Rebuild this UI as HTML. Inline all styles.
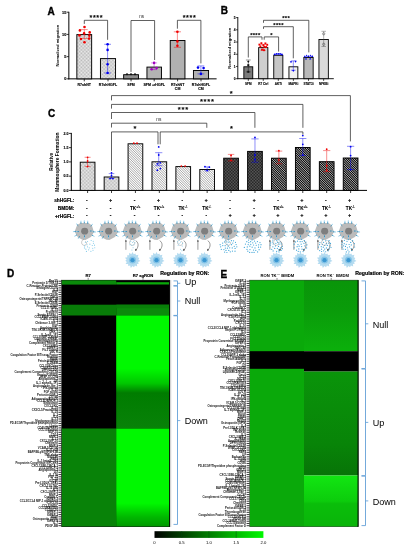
<!DOCTYPE html>
<html lang="en">
<head>
<meta charset="utf-8">
<title>Figure</title>
<style>
html,body{margin:0;padding:0;background:#fff;}
body{width:414px;height:550px;overflow:hidden;font-family:"Liberation Sans",sans-serif;}
svg{display:block;font-family:"Liberation Sans",sans-serif;}
</style>
</head>
<body>
<svg width="414" height="550" viewBox="0 0 414 550">
<defs>
<pattern id="pdot" width="1.4" height="1.4" patternUnits="userSpaceOnUse"><rect width="1.4" height="1.4" fill="#f1f1f1"/><rect x="0" y="0" width="0.7" height="0.7" fill="#b4b4b4"/><rect x="0.7" y="0.7" width="0.7" height="0.7" fill="#b4b4b4"/></pattern>
<pattern id="phatch" width="1.8" height="1.8" patternUnits="userSpaceOnUse" patternTransform="rotate(45)"><rect width="1.8" height="1.8" fill="#fbfbfb"/><rect x="0" y="0" width="1.8" height="0.6" fill="#6e6e6e"/></pattern>
<pattern id="pcheck" width="1.5" height="1.5" patternUnits="userSpaceOnUse"><rect width="1.5" height="1.5" fill="#0c0c0c"/><rect x="0" y="0" width="0.6" height="0.6" fill="#a8a8a8"/><rect x="0.75" y="0.75" width="0.6" height="0.6" fill="#a8a8a8"/></pattern>
<pattern id="pdhatch" width="1.9" height="1.9" patternUnits="userSpaceOnUse" patternTransform="rotate(45)"><rect width="1.9" height="1.9" fill="#050505"/><rect x="0" y="0" width="1.9" height="0.7" fill="#fff"/></pattern>
<linearGradient id="gD1" x1="0" y1="0" x2="0" y2="1">
<stop offset="0" stop-color="#00f800"/><stop offset="0.47" stop-color="#00f800"/><stop offset="0.60" stop-color="#00c800"/><stop offset="0.685" stop-color="#007c00"/><stop offset="1" stop-color="#088208"/>
</linearGradient>
<linearGradient id="gD2" x1="0" y1="0" x2="0" y2="1">
<stop offset="0" stop-color="#00f800"/><stop offset="0.76" stop-color="#00f800"/><stop offset="0.90" stop-color="#00b800"/><stop offset="1" stop-color="#009800"/>
</linearGradient>
<linearGradient id="gE0" x1="0" y1="0" x2="0" y2="1">
<stop offset="0" stop-color="#099509"/><stop offset="0.45" stop-color="#0a9c0a"/><stop offset="1" stop-color="#0bb00b"/>
</linearGradient>
<linearGradient id="gE1" x1="0" y1="0" x2="0" y2="1">
<stop offset="0" stop-color="#0a940a"/><stop offset="0.7" stop-color="#088408"/><stop offset="1" stop-color="#077407"/>
</linearGradient>
<linearGradient id="gE2" x1="0" y1="0" x2="0" y2="1">
<stop offset="0" stop-color="#12e612"/><stop offset="0.5" stop-color="#0ccc0c"/><stop offset="0.55" stop-color="#0abe0a"/><stop offset="1" stop-color="#0ab40a"/>
</linearGradient>
<linearGradient id="gbar" x1="0" y1="0" x2="1" y2="0">
<stop offset="0" stop-color="#000"/><stop offset="1" stop-color="#00f800"/>
</linearGradient>
<g id="cell">
<polygon points="-9.6,0.4 -7.2,-6.4 -3.8,-8.3 3.8,-8.3 7.2,-5.8 9.2,0.8 6.4,5.8 1.0,8.8 -1.8,8.6 -6.4,6.2" fill="#bbbbbb" stroke="#bbbbbb" stroke-width="1.6" stroke-linejoin="round"/>
<circle cx="0.2" cy="0" r="3.75" fill="#7e7e7e"/>
<line x1="-3.80" y1="-8.20" x2="-3.80" y2="-10.00" stroke="#2f8fbe" stroke-width="1.0"/><line x1="-3.80" y1="-10.00" x2="-3.80" y2="-11.50" stroke="#86c9ea" stroke-width="0.9"/><line x1="-0.20" y1="-8.60" x2="-0.20" y2="-10.40" stroke="#2f8fbe" stroke-width="1.0"/><line x1="-0.20" y1="-10.40" x2="-0.20" y2="-11.90" stroke="#86c9ea" stroke-width="0.9"/><line x1="3.40" y1="-8.20" x2="3.40" y2="-10.00" stroke="#2f8fbe" stroke-width="1.0"/><line x1="3.40" y1="-10.00" x2="3.40" y2="-11.50" stroke="#86c9ea" stroke-width="0.9"/><line x1="-6.60" y1="-6.00" x2="-7.86" y2="-7.26" stroke="#2f8fbe" stroke-width="1.0"/><line x1="-7.86" y1="-7.26" x2="-8.91" y2="-8.31" stroke="#86c9ea" stroke-width="0.9"/><line x1="6.60" y1="-5.60" x2="7.86" y2="-6.86" stroke="#2f8fbe" stroke-width="1.0"/><line x1="7.86" y1="-6.86" x2="8.91" y2="-7.91" stroke="#86c9ea" stroke-width="0.9"/><line x1="-9.00" y1="0.20" x2="-10.80" y2="0.38" stroke="#2f8fbe" stroke-width="1.0"/><line x1="-10.80" y1="0.38" x2="-12.30" y2="0.53" stroke="#86c9ea" stroke-width="0.9"/><line x1="9.00" y1="0.60" x2="10.80" y2="0.78" stroke="#2f8fbe" stroke-width="1.0"/><line x1="10.80" y1="0.78" x2="12.30" y2="0.93" stroke="#86c9ea" stroke-width="0.9"/><line x1="-8.00" y1="4.00" x2="-9.53" y2="4.90" stroke="#2f8fbe" stroke-width="1.0"/><line x1="-9.53" y1="4.90" x2="-10.80" y2="5.65" stroke="#86c9ea" stroke-width="0.9"/><line x1="7.80" y1="4.20" x2="9.33" y2="5.10" stroke="#2f8fbe" stroke-width="1.0"/><line x1="9.33" y1="5.10" x2="10.61" y2="5.85" stroke="#86c9ea" stroke-width="0.9"/><line x1="-5.20" y1="5.60" x2="-6.10" y2="7.13" stroke="#2f8fbe" stroke-width="1.0"/><line x1="-6.10" y1="7.13" x2="-6.85" y2="8.40" stroke="#86c9ea" stroke-width="0.9"/><line x1="0.00" y1="4.60" x2="0.00" y2="6.40" stroke="#2f8fbe" stroke-width="1.0"/><line x1="0.00" y1="6.40" x2="0.00" y2="7.90" stroke="#86c9ea" stroke-width="0.9"/><line x1="5.80" y1="-0.20" x2="7.60" y2="-0.20" stroke="#2f8fbe" stroke-width="1.0"/><line x1="7.60" y1="-0.20" x2="9.10" y2="-0.20" stroke="#86c9ea" stroke-width="0.9"/><line x1="-5.80" y1="0.40" x2="-7.60" y2="0.40" stroke="#2f8fbe" stroke-width="1.0"/><line x1="-7.60" y1="0.40" x2="-9.10" y2="0.40" stroke="#86c9ea" stroke-width="0.9"/>
</g>
<g id="mac">
<polygon points="0.00,-8.00 1.23,-5.77 2.93,-6.58 3.47,-4.77 5.95,-5.35 5.11,-2.95 6.85,-2.22 5.87,-0.62 7.96,0.84 5.61,1.82 6.24,3.60 4.38,3.95 4.70,6.47 2.40,5.39 1.50,7.04 0.00,5.90 -1.66,7.83 -2.40,5.39 -4.23,5.82 -4.38,3.95 -6.93,4.00 -5.61,1.82 -7.16,0.75 -5.87,-0.62 -7.61,-2.47 -5.11,-2.95 -5.35,-4.82 -3.47,-4.77 -3.25,-7.31 -1.23,-5.77" fill="#b4dbf0"/>
<circle cx="0" cy="0" r="3.5" fill="#86c4e7"/>
<circle cx="0" cy="0.1" r="2.15" fill="#3a97d1"/>
</g>
</defs>
<rect width="414" height="550" fill="#fff"/>
<text x="47.40" y="14.50" font-size="10" text-anchor="start" font-weight="bold" fill="#000" stroke="#000" stroke-width="0.35">A</text>
<line x1="68.85" y1="11.80" x2="68.85" y2="79.35" stroke="#000" stroke-width="1.0" />
<line x1="68.35" y1="78.85" x2="216.60" y2="78.85" stroke="#000" stroke-width="1.0" />
<line x1="66.65" y1="78.85" x2="68.85" y2="78.85" stroke="#000" stroke-width="0.8" />
<text x="66.25" y="80.15" font-size="3.8" text-anchor="end" font-weight="bold" fill="#000"  stroke="#000" stroke-width="0.133">0</text>
<line x1="66.65" y1="56.63" x2="68.85" y2="56.63" stroke="#000" stroke-width="0.8" />
<text x="66.25" y="57.93" font-size="3.8" text-anchor="end" font-weight="bold" fill="#000"  stroke="#000" stroke-width="0.133">5</text>
<line x1="66.65" y1="34.42" x2="68.85" y2="34.42" stroke="#000" stroke-width="0.8" />
<text x="66.25" y="35.72" font-size="3.8" text-anchor="end" font-weight="bold" fill="#000"  stroke="#000" stroke-width="0.133">10</text>
<line x1="66.65" y1="12.20" x2="68.85" y2="12.20" stroke="#000" stroke-width="0.8" />
<text x="66.25" y="13.50" font-size="3.8" text-anchor="end" font-weight="bold" fill="#000"  stroke="#000" stroke-width="0.133">15</text>
<text transform="translate(59.0,45.6) rotate(-90)" font-size="4.1" font-weight="bold" text-anchor="middle" fill="#000">Normalized migration</text>
<rect x="76.85" y="34.60" width="14.80" height="44.25" fill="url(#pdot)" stroke="#000" stroke-width="0.95" />
<line x1="84.25" y1="78.85" x2="84.25" y2="81.35" stroke="#000" stroke-width="0.75" />
<rect x="100.45" y="58.60" width="15.10" height="20.25" fill="url(#pdot)" stroke="#000" stroke-width="0.95" />
<line x1="108.00" y1="78.85" x2="108.00" y2="81.35" stroke="#000" stroke-width="0.75" />
<rect x="123.65" y="74.70" width="14.80" height="4.15" fill="#8e8e8e" stroke="#000" stroke-width="0.95" />
<line x1="131.05" y1="78.85" x2="131.05" y2="81.35" stroke="#000" stroke-width="0.75" />
<rect x="146.95" y="67.10" width="14.50" height="11.75" fill="#b3b3b3" stroke="#000" stroke-width="0.95" />
<line x1="154.20" y1="78.85" x2="154.20" y2="81.35" stroke="#000" stroke-width="0.75" />
<rect x="170.25" y="40.50" width="14.70" height="38.35" fill="#b1b1b1" stroke="#000" stroke-width="0.95" />
<line x1="177.60" y1="78.85" x2="177.60" y2="81.35" stroke="#000" stroke-width="0.75" />
<rect x="193.45" y="70.50" width="15.10" height="8.35" fill="#b1b1b1" stroke="#000" stroke-width="0.95" />
<line x1="201.00" y1="78.85" x2="201.00" y2="81.35" stroke="#000" stroke-width="0.75" />
<text x="84.25" y="85.90" font-size="3.55" text-anchor="middle" font-weight="bold" fill="#000"  stroke="#000" stroke-width="0.124">R7shNT</text>
<text x="108.00" y="85.90" font-size="3.55" text-anchor="middle" font-weight="bold" fill="#000"  stroke="#000" stroke-width="0.124">R7shHGFL</text>
<text x="131.05" y="85.90" font-size="3.55" text-anchor="middle" font-weight="bold" fill="#000"  stroke="#000" stroke-width="0.124">SFM</text>
<text x="154.20" y="85.90" font-size="3.55" text-anchor="middle" font-weight="bold" fill="#000"  stroke="#000" stroke-width="0.124">SFM +rHGFL</text>
<text x="177.60" y="85.90" font-size="3.55" text-anchor="middle" font-weight="bold" fill="#000"  stroke="#000" stroke-width="0.124">R7shNT</text>
<text x="177.60" y="89.90" font-size="3.55" text-anchor="middle" font-weight="bold" fill="#000"  stroke="#000" stroke-width="0.124">CM</text>
<text x="201.00" y="85.90" font-size="3.55" text-anchor="middle" font-weight="bold" fill="#000"  stroke="#000" stroke-width="0.124">R7shHGFL</text>
<text x="201.00" y="89.90" font-size="3.55" text-anchor="middle" font-weight="bold" fill="#000"  stroke="#000" stroke-width="0.124">CM</text>
<line x1="84.30" y1="29.60" x2="84.30" y2="38.60" stroke="#f00000" stroke-width="0.45" />
<line x1="80.90" y1="29.60" x2="87.70" y2="29.60" stroke="#f00000" stroke-width="0.45" />
<line x1="80.90" y1="38.60" x2="87.70" y2="38.60" stroke="#f00000" stroke-width="0.45" />
<circle cx="79.90" cy="30.40" r="1.3" fill="#f00000" />
<circle cx="84.50" cy="27.00" r="1.3" fill="#f00000" />
<circle cx="89.70" cy="32.40" r="1.3" fill="#f00000" />
<circle cx="79.50" cy="35.40" r="1.3" fill="#f00000" />
<circle cx="84.10" cy="33.40" r="1.3" fill="#f00000" />
<circle cx="89.30" cy="35.60" r="1.3" fill="#f00000" />
<circle cx="80.90" cy="39.00" r="1.3" fill="#f00000" />
<circle cx="84.50" cy="42.20" r="1.3" fill="#f00000" />
<circle cx="89.10" cy="38.60" r="1.3" fill="#f00000" />
<line x1="107.60" y1="44.30" x2="107.60" y2="73.00" stroke="#0000f0" stroke-width="0.45" />
<line x1="104.20" y1="44.30" x2="111.00" y2="44.30" stroke="#0000f0" stroke-width="0.45" />
<line x1="104.20" y1="73.00" x2="111.00" y2="73.00" stroke="#0000f0" stroke-width="0.45" />
<circle cx="107.60" cy="44.30" r="1.3" fill="#0000f0" />
<circle cx="107.60" cy="49.90" r="1.3" fill="#0000f0" />
<circle cx="107.60" cy="64.30" r="1.3" fill="#0000f0" />
<circle cx="107.60" cy="73.00" r="1.3" fill="#0000f0" />
<circle cx="127.00" cy="74.20" r="1.05" fill="#111" />
<circle cx="131.00" cy="74.20" r="1.05" fill="#111" />
<circle cx="135.00" cy="74.20" r="1.05" fill="#111" />
<line x1="154.10" y1="62.90" x2="154.10" y2="69.60" stroke="#a000c0" stroke-width="0.45" />
<line x1="151.10" y1="62.90" x2="157.10" y2="62.90" stroke="#a000c0" stroke-width="0.45" />
<line x1="151.10" y1="69.60" x2="157.10" y2="69.60" stroke="#a000c0" stroke-width="0.45" />
<circle cx="154.10" cy="62.90" r="1.3" fill="#a000c0" />
<circle cx="151.60" cy="69.30" r="1.3" fill="#a000c0" />
<circle cx="156.60" cy="68.10" r="1.3" fill="#a000c0" />
<line x1="177.40" y1="31.80" x2="177.40" y2="47.30" stroke="#f00000" stroke-width="0.45" />
<line x1="173.80" y1="31.80" x2="181.00" y2="31.80" stroke="#f00000" stroke-width="0.45" />
<line x1="173.80" y1="47.30" x2="181.00" y2="47.30" stroke="#f00000" stroke-width="0.45" />
<circle cx="177.40" cy="31.80" r="1.3" fill="#f00000" />
<circle cx="177.40" cy="41.40" r="1.3" fill="#f00000" />
<circle cx="177.40" cy="45.70" r="1.3" fill="#f00000" />
<line x1="200.90" y1="65.90" x2="200.90" y2="73.90" stroke="#0000f0" stroke-width="0.45" />
<line x1="197.50" y1="65.90" x2="204.30" y2="65.90" stroke="#0000f0" stroke-width="0.45" />
<line x1="197.50" y1="73.90" x2="204.30" y2="73.90" stroke="#0000f0" stroke-width="0.45" />
<circle cx="198.00" cy="67.60" r="1.3" fill="#0000f0" />
<circle cx="203.60" cy="68.10" r="1.3" fill="#0000f0" />
<circle cx="200.90" cy="73.90" r="1.3" fill="#0000f0" />
<polyline points="84.30,23.90 84.30,20.30 107.60,20.30 107.60,39.80" fill="none" stroke="#1c1c1c" stroke-width="0.7"/>
<text x="96.30" y="20.16" font-size="7.2" text-anchor="middle" font-weight="bold" fill="#000" letter-spacing="0.6" stroke="#000" stroke-width="0.12">****</text>
<polyline points="131.00,71.90 131.00,20.50 154.60,20.50 154.60,60.00" fill="none" stroke="#1c1c1c" stroke-width="0.7"/>
<text x="141.60" y="18.40" font-size="4.6" text-anchor="middle" font-weight="normal" fill="#2a2a2a" >ns</text>
<polyline points="177.40,28.70 177.40,20.30 200.90,20.30 200.90,63.40" fill="none" stroke="#1c1c1c" stroke-width="0.7"/>
<text x="189.50" y="20.16" font-size="7.2" text-anchor="middle" font-weight="bold" fill="#000" letter-spacing="0.6" stroke="#000" stroke-width="0.12">****</text>
<text x="220.80" y="14.20" font-size="10" text-anchor="start" font-weight="bold" fill="#000" stroke="#000" stroke-width="0.35">B</text>
<line x1="237.80" y1="17.00" x2="237.80" y2="79.15" stroke="#000" stroke-width="0.9" />
<line x1="237.35" y1="78.70" x2="333.80" y2="78.70" stroke="#000" stroke-width="0.9" />
<line x1="235.80" y1="78.70" x2="237.80" y2="78.70" stroke="#000" stroke-width="0.7" />
<text x="235.50" y="79.85" font-size="3.2" text-anchor="end" font-weight="bold" fill="#000"  stroke="#000" stroke-width="0.112">0</text>
<line x1="235.80" y1="66.48" x2="237.80" y2="66.48" stroke="#000" stroke-width="0.7" />
<text x="235.50" y="67.63" font-size="3.2" text-anchor="end" font-weight="bold" fill="#000"  stroke="#000" stroke-width="0.112">1</text>
<line x1="235.80" y1="54.26" x2="237.80" y2="54.26" stroke="#000" stroke-width="0.7" />
<text x="235.50" y="55.41" font-size="3.2" text-anchor="end" font-weight="bold" fill="#000"  stroke="#000" stroke-width="0.112">2</text>
<line x1="235.80" y1="42.04" x2="237.80" y2="42.04" stroke="#000" stroke-width="0.7" />
<text x="235.50" y="43.19" font-size="3.2" text-anchor="end" font-weight="bold" fill="#000"  stroke="#000" stroke-width="0.112">3</text>
<line x1="235.80" y1="29.82" x2="237.80" y2="29.82" stroke="#000" stroke-width="0.7" />
<text x="235.50" y="30.97" font-size="3.2" text-anchor="end" font-weight="bold" fill="#000"  stroke="#000" stroke-width="0.112">4</text>
<line x1="235.80" y1="17.60" x2="237.80" y2="17.60" stroke="#000" stroke-width="0.7" />
<text x="235.50" y="18.75" font-size="3.2" text-anchor="end" font-weight="bold" fill="#000"  stroke="#000" stroke-width="0.112">5</text>
<text transform="translate(231.4,48.2) rotate(-90)" font-size="4.0" font-weight="bold" text-anchor="middle" fill="#000">Normalized migration</text>
<rect x="243.85" y="66.80" width="8.90" height="11.90" fill="#7a7a7a" stroke="#000" stroke-width="0.9" />
<line x1="248.30" y1="78.70" x2="248.30" y2="80.90" stroke="#000" stroke-width="0.7" />
<text x="248.30" y="84.80" font-size="3.1" text-anchor="middle" font-weight="bold" fill="#000"  stroke="#000" stroke-width="0.109">SFM</text>
<rect x="258.65" y="47.60" width="9.20" height="31.10" fill="#cfcfcf" stroke="#000" stroke-width="0.9" />
<line x1="263.25" y1="78.70" x2="263.25" y2="80.90" stroke="#000" stroke-width="0.7" />
<text x="263.25" y="84.80" font-size="3.1" text-anchor="middle" font-weight="bold" fill="#000"  stroke="#000" stroke-width="0.109">R7 Ctrl</text>
<rect x="273.75" y="55.30" width="9.10" height="23.40" fill="#c6c6c6" stroke="#000" stroke-width="0.9" />
<line x1="278.30" y1="78.70" x2="278.30" y2="80.90" stroke="#000" stroke-width="0.7" />
<text x="278.30" y="84.80" font-size="3.1" text-anchor="middle" font-weight="bold" fill="#000"  stroke="#000" stroke-width="0.109">AKTi</text>
<rect x="288.95" y="66.80" width="8.90" height="11.90" fill="#f1f1f1" stroke="#000" stroke-width="0.9" />
<line x1="293.40" y1="78.70" x2="293.40" y2="80.90" stroke="#000" stroke-width="0.7" />
<text x="293.40" y="84.80" font-size="3.1" text-anchor="middle" font-weight="bold" fill="#000"  stroke="#000" stroke-width="0.109">MAPKi</text>
<rect x="303.85" y="57.50" width="9.30" height="21.20" fill="#b9b9b9" stroke="#000" stroke-width="0.9" />
<line x1="308.50" y1="78.70" x2="308.50" y2="80.90" stroke="#000" stroke-width="0.7" />
<text x="308.50" y="84.80" font-size="3.1" text-anchor="middle" font-weight="bold" fill="#000"  stroke="#000" stroke-width="0.109">STAT3i</text>
<rect x="318.95" y="39.50" width="9.40" height="39.20" fill="#dadada" stroke="#000" stroke-width="0.9" />
<line x1="323.65" y1="78.70" x2="323.65" y2="80.90" stroke="#000" stroke-width="0.7" />
<text x="323.65" y="84.80" font-size="3.1" text-anchor="middle" font-weight="bold" fill="#000"  stroke="#000" stroke-width="0.109">NFKBi</text>
<line x1="248.30" y1="60.00" x2="248.30" y2="71.90" stroke="#111" stroke-width="0.45" />
<line x1="245.90" y1="60.00" x2="250.70" y2="60.00" stroke="#111" stroke-width="0.45" />
<line x1="245.90" y1="71.90" x2="250.70" y2="71.90" stroke="#111" stroke-width="0.45" />
<polygon points="247.1,60.9 249.5,60.9 248.3,62.9" fill="#111"/>
<rect x="247.30" y="64.20" width="2.00" height="2.00" fill="#111"  />
<rect x="247.30" y="70.80" width="2.00" height="2.00" fill="#111"  />
<line x1="263.20" y1="44.40" x2="263.20" y2="50.40" stroke="#f00000" stroke-width="0.45" />
<line x1="260.60" y1="44.40" x2="265.80" y2="44.40" stroke="#f00000" stroke-width="0.45" />
<line x1="260.60" y1="50.40" x2="265.80" y2="50.40" stroke="#f00000" stroke-width="0.45" />
<rect x="258.45" y="43.65" width="1.90" height="1.90" fill="#f00000"  />
<rect x="260.45" y="42.25" width="1.90" height="1.90" fill="#f00000"  />
<rect x="262.45" y="44.25" width="1.90" height="1.90" fill="#f00000"  />
<rect x="264.45" y="42.45" width="1.90" height="1.90" fill="#f00000"  />
<rect x="266.25" y="43.85" width="1.90" height="1.90" fill="#f00000"  />
<rect x="259.45" y="45.45" width="1.90" height="1.90" fill="#f00000"  />
<rect x="263.45" y="45.85" width="1.90" height="1.90" fill="#f00000"  />
<rect x="261.05" y="48.65" width="1.90" height="1.90" fill="#f00000"  />
<rect x="263.05" y="49.25" width="1.90" height="1.90" fill="#f00000"  />
<rect x="265.25" y="46.05" width="1.90" height="1.90" fill="#f00000"  />
<circle cx="274.70" cy="54.40" r="0.95" fill="#0000f0" />
<circle cx="276.50" cy="53.90" r="0.95" fill="#0000f0" />
<circle cx="278.30" cy="53.90" r="0.95" fill="#0000f0" />
<circle cx="280.10" cy="53.90" r="0.95" fill="#0000f0" />
<circle cx="281.90" cy="54.40" r="0.95" fill="#0000f0" />
<line x1="293.30" y1="60.90" x2="293.30" y2="70.20" stroke="#0000f0" stroke-width="0.45" />
<line x1="290.90" y1="60.90" x2="295.70" y2="60.90" stroke="#0000f0" stroke-width="0.45" />
<line x1="290.90" y1="70.20" x2="295.70" y2="70.20" stroke="#0000f0" stroke-width="0.45" />
<polygon points="289.80,61.20 292.20,61.20 291.00,63.30" fill="#0000f0"/>
<polygon points="294.40,60.70 296.80,60.70 295.60,62.80" fill="#0000f0"/>
<polygon points="292.10,70.00 294.50,70.00 293.30,72.10" fill="#0000f0"/>
<polygon points="303.70,57.30 305.90,57.30 304.80,55.30" fill="#0000f0"/>
<polygon points="305.50,56.50 307.70,56.50 306.60,54.50" fill="#0000f0"/>
<polygon points="307.30,57.10 309.50,57.10 308.40,55.10" fill="#0000f0"/>
<polygon points="309.30,56.50 311.50,56.50 310.40,54.50" fill="#0000f0"/>
<polygon points="311.10,57.10 313.30,57.10 312.20,55.10" fill="#0000f0"/>
<polygon points="304.90,59.50 307.10,59.50 306.00,57.50" fill="#0000f0"/>
<polygon points="309.10,59.50 311.30,59.50 310.20,57.50" fill="#0000f0"/>
<line x1="323.70" y1="31.30" x2="323.70" y2="46.50" stroke="#444" stroke-width="0.4" />
<line x1="321.40" y1="31.30" x2="326.00" y2="31.30" stroke="#444" stroke-width="0.4" />
<line x1="321.40" y1="46.50" x2="326.00" y2="46.50" stroke="#444" stroke-width="0.4" />
<circle cx="323.7" cy="33.8" r="1.15" fill="none" stroke="#333" stroke-width="0.45"/>
<circle cx="323.7" cy="44.3" r="1.15" fill="none" stroke="#333" stroke-width="0.45"/>
<polyline points="248.30,57.50 248.30,36.90 262.00,36.90 262.00,39.70" fill="none" stroke="#1c1c1c" stroke-width="0.7"/>
<text x="255.38" y="37.19" font-size="5.8" text-anchor="middle" font-weight="bold" fill="#000" letter-spacing="0.35" stroke="#000" stroke-width="0.12">****</text>
<polyline points="264.20,39.70 264.20,36.90 278.60,36.90 278.60,51.60" fill="none" stroke="#1c1c1c" stroke-width="0.7"/>
<text x="271.55" y="37.19" font-size="5.8" text-anchor="middle" font-weight="bold" fill="#000" letter-spacing="0.5" stroke="#000" stroke-width="0.12">*</text>
<polyline points="263.50,28.90 263.50,26.70 293.30,26.70 293.30,58.30" fill="none" stroke="#1c1c1c" stroke-width="0.7"/>
<text x="278.57" y="27.09" font-size="5.8" text-anchor="middle" font-weight="bold" fill="#000" letter-spacing="0.35" stroke="#000" stroke-width="0.12">****</text>
<polyline points="263.50,22.80 263.50,20.30 308.80,20.30 308.80,52.40" fill="none" stroke="#1c1c1c" stroke-width="0.7"/>
<text x="286.18" y="20.39" font-size="5.8" text-anchor="middle" font-weight="bold" fill="#000" letter-spacing="0.35" stroke="#000" stroke-width="0.12">***</text>
<text x="47.90" y="117.20" font-size="10" text-anchor="start" font-weight="bold" fill="#000" stroke="#000" stroke-width="0.35">C</text>
<line x1="71.30" y1="132.90" x2="71.30" y2="190.90" stroke="#000" stroke-width="1.0" />
<line x1="70.80" y1="190.40" x2="367.00" y2="190.40" stroke="#000" stroke-width="1.0" />
<line x1="69.00" y1="190.40" x2="71.30" y2="190.40" stroke="#000" stroke-width="0.8" />
<text x="68.60" y="191.70" font-size="3.6" text-anchor="end" font-weight="bold" fill="#000"  stroke="#000" stroke-width="0.126">0.0</text>
<line x1="69.00" y1="176.15" x2="71.30" y2="176.15" stroke="#000" stroke-width="0.8" />
<text x="68.60" y="177.45" font-size="3.6" text-anchor="end" font-weight="bold" fill="#000"  stroke="#000" stroke-width="0.126">0.5</text>
<line x1="69.00" y1="161.90" x2="71.30" y2="161.90" stroke="#000" stroke-width="0.8" />
<text x="68.60" y="163.20" font-size="3.6" text-anchor="end" font-weight="bold" fill="#000"  stroke="#000" stroke-width="0.126">1.0</text>
<line x1="69.00" y1="147.65" x2="71.30" y2="147.65" stroke="#000" stroke-width="0.8" />
<text x="68.60" y="148.95" font-size="3.6" text-anchor="end" font-weight="bold" fill="#000"  stroke="#000" stroke-width="0.126">1.5</text>
<line x1="69.00" y1="133.40" x2="71.30" y2="133.40" stroke="#000" stroke-width="0.8" />
<text x="68.60" y="134.70" font-size="3.6" text-anchor="end" font-weight="bold" fill="#000"  stroke="#000" stroke-width="0.126">2.0</text>
<text transform="translate(53.2,161.8) rotate(-90)" font-size="4.7" font-weight="bold" text-anchor="middle" fill="#000">Relative</text>
<text transform="translate(58.9,162.2) rotate(-90)" font-size="4.85" font-weight="bold" text-anchor="middle" fill="#000">Mammosphere Formation</text>
<rect x="80.25" y="162.20" width="14.70" height="28.20" fill="url(#pdot)" stroke="#000" stroke-width="0.95" />
<line x1="87.60" y1="190.40" x2="87.60" y2="193.00" stroke="#000" stroke-width="0.75" />
<rect x="104.16" y="177.00" width="14.70" height="13.40" fill="url(#pdot)" stroke="#000" stroke-width="0.95" />
<line x1="111.51" y1="190.40" x2="111.51" y2="193.00" stroke="#000" stroke-width="0.75" />
<clipPath id="cb2"><rect x="128.07" y="143.80" width="14.70" height="46.60"/></clipPath>
<rect x="128.07" y="143.80" width="14.70" height="46.60" fill="#fdfdfd"  />
<path d="M81.21,143.80l46.60,46.60M83.61,143.80l46.60,46.60M86.01,143.80l46.60,46.60M88.41,143.80l46.60,46.60M90.81,143.80l46.60,46.60M93.21,143.80l46.60,46.60M95.61,143.80l46.60,46.60M98.01,143.80l46.60,46.60M100.41,143.80l46.60,46.60M102.81,143.80l46.60,46.60M105.21,143.80l46.60,46.60M107.61,143.80l46.60,46.60M110.01,143.80l46.60,46.60M112.41,143.80l46.60,46.60M114.81,143.80l46.60,46.60M117.21,143.80l46.60,46.60M119.61,143.80l46.60,46.60M122.01,143.80l46.60,46.60M124.41,143.80l46.60,46.60M126.81,143.80l46.60,46.60M129.21,143.80l46.60,46.60M131.61,143.80l46.60,46.60M134.01,143.80l46.60,46.60M136.41,143.80l46.60,46.60M138.81,143.80l46.60,46.60M141.21,143.80l46.60,46.60M143.61,143.80l46.60,46.60" stroke="#555" stroke-width="0.5" fill="none" clip-path="url(#cb2)"/>
<rect x="128.07" y="143.80" width="14.70" height="46.60" fill="none" stroke="#000" stroke-width="0.95" />
<line x1="135.42" y1="190.40" x2="135.42" y2="193.00" stroke="#000" stroke-width="0.75" />
<clipPath id="cb3"><rect x="151.98" y="161.80" width="14.70" height="28.60"/></clipPath>
<rect x="151.98" y="161.80" width="14.70" height="28.60" fill="#fdfdfd"  />
<path d="M123.49,161.80l28.60,28.60M125.89,161.80l28.60,28.60M128.29,161.80l28.60,28.60M130.69,161.80l28.60,28.60M133.09,161.80l28.60,28.60M135.49,161.80l28.60,28.60M137.89,161.80l28.60,28.60M140.29,161.80l28.60,28.60M142.69,161.80l28.60,28.60M145.09,161.80l28.60,28.60M147.49,161.80l28.60,28.60M149.89,161.80l28.60,28.60M152.29,161.80l28.60,28.60M154.69,161.80l28.60,28.60M157.09,161.80l28.60,28.60M159.49,161.80l28.60,28.60M161.89,161.80l28.60,28.60M164.29,161.80l28.60,28.60M166.69,161.80l28.60,28.60" stroke="#555" stroke-width="0.5" fill="none" clip-path="url(#cb3)"/>
<rect x="151.98" y="161.80" width="14.70" height="28.60" fill="none" stroke="#000" stroke-width="0.95" />
<line x1="159.33" y1="190.40" x2="159.33" y2="193.00" stroke="#000" stroke-width="0.75" />
<clipPath id="cb4"><rect x="175.89" y="166.60" width="14.70" height="23.80"/></clipPath>
<rect x="175.89" y="166.60" width="14.70" height="23.80" fill="#fdfdfd"  />
<path d="M152.57,166.60l23.80,23.80M154.97,166.60l23.80,23.80M157.37,166.60l23.80,23.80M159.77,166.60l23.80,23.80M162.17,166.60l23.80,23.80M164.57,166.60l23.80,23.80M166.97,166.60l23.80,23.80M169.37,166.60l23.80,23.80M171.77,166.60l23.80,23.80M174.17,166.60l23.80,23.80M176.57,166.60l23.80,23.80M178.97,166.60l23.80,23.80M181.37,166.60l23.80,23.80M183.77,166.60l23.80,23.80M186.17,166.60l23.80,23.80M188.57,166.60l23.80,23.80M190.97,166.60l23.80,23.80" stroke="#555" stroke-width="0.5" fill="none" clip-path="url(#cb4)"/>
<rect x="175.89" y="166.60" width="14.70" height="23.80" fill="none" stroke="#000" stroke-width="0.95" />
<line x1="183.24" y1="190.40" x2="183.24" y2="193.00" stroke="#000" stroke-width="0.75" />
<clipPath id="cb5"><rect x="199.80" y="169.50" width="14.70" height="20.90"/></clipPath>
<rect x="199.80" y="169.50" width="14.70" height="20.90" fill="#fdfdfd"  />
<path d="M179.75,169.50l20.90,20.90M182.15,169.50l20.90,20.90M184.55,169.50l20.90,20.90M186.95,169.50l20.90,20.90M189.35,169.50l20.90,20.90M191.75,169.50l20.90,20.90M194.15,169.50l20.90,20.90M196.55,169.50l20.90,20.90M198.95,169.50l20.90,20.90M201.35,169.50l20.90,20.90M203.75,169.50l20.90,20.90M206.15,169.50l20.90,20.90M208.55,169.50l20.90,20.90M210.95,169.50l20.90,20.90M213.35,169.50l20.90,20.90" stroke="#555" stroke-width="0.5" fill="none" clip-path="url(#cb5)"/>
<rect x="199.80" y="169.50" width="14.70" height="20.90" fill="none" stroke="#000" stroke-width="0.95" />
<line x1="207.15" y1="190.40" x2="207.15" y2="193.00" stroke="#000" stroke-width="0.75" />
<rect x="223.71" y="158.20" width="14.70" height="32.20" fill="url(#pcheck)" stroke="#000" stroke-width="0.95" />
<line x1="231.06" y1="190.40" x2="231.06" y2="193.00" stroke="#000" stroke-width="0.75" />
<rect x="247.62" y="151.40" width="14.70" height="39.00" fill="url(#pcheck)" stroke="#000" stroke-width="0.95" />
<line x1="254.97" y1="190.40" x2="254.97" y2="193.00" stroke="#000" stroke-width="0.75" />
<clipPath id="cb8"><rect x="271.53" y="158.20" width="14.70" height="32.20"/></clipPath>
<rect x="271.53" y="158.20" width="14.70" height="32.20" fill="#080808"  />
<path d="M238.99,158.20l32.20,32.20M241.29,158.20l32.20,32.20M243.59,158.20l32.20,32.20M245.89,158.20l32.20,32.20M248.19,158.20l32.20,32.20M250.49,158.20l32.20,32.20M252.79,158.20l32.20,32.20M255.09,158.20l32.20,32.20M257.39,158.20l32.20,32.20M259.69,158.20l32.20,32.20M261.99,158.20l32.20,32.20M264.29,158.20l32.20,32.20M266.59,158.20l32.20,32.20M268.89,158.20l32.20,32.20M271.19,158.20l32.20,32.20M273.49,158.20l32.20,32.20M275.79,158.20l32.20,32.20M278.09,158.20l32.20,32.20M280.39,158.20l32.20,32.20M282.69,158.20l32.20,32.20M284.99,158.20l32.20,32.20" stroke="#f6f6f6" stroke-width="0.72" fill="none" clip-path="url(#cb8)"/>
<rect x="271.53" y="158.20" width="14.70" height="32.20" fill="none" stroke="#000" stroke-width="0.95" />
<line x1="278.88" y1="190.40" x2="278.88" y2="193.00" stroke="#000" stroke-width="0.75" />
<clipPath id="cb9"><rect x="295.44" y="147.50" width="14.70" height="42.90"/></clipPath>
<rect x="295.44" y="147.50" width="14.70" height="42.90" fill="#080808"  />
<path d="M252.57,147.50l42.90,42.90M254.87,147.50l42.90,42.90M257.17,147.50l42.90,42.90M259.47,147.50l42.90,42.90M261.77,147.50l42.90,42.90M264.07,147.50l42.90,42.90M266.37,147.50l42.90,42.90M268.67,147.50l42.90,42.90M270.97,147.50l42.90,42.90M273.27,147.50l42.90,42.90M275.57,147.50l42.90,42.90M277.87,147.50l42.90,42.90M280.17,147.50l42.90,42.90M282.47,147.50l42.90,42.90M284.77,147.50l42.90,42.90M287.07,147.50l42.90,42.90M289.37,147.50l42.90,42.90M291.67,147.50l42.90,42.90M293.97,147.50l42.90,42.90M296.27,147.50l42.90,42.90M298.57,147.50l42.90,42.90M300.87,147.50l42.90,42.90M303.17,147.50l42.90,42.90M305.47,147.50l42.90,42.90M307.77,147.50l42.90,42.90M310.07,147.50l42.90,42.90" stroke="#f6f6f6" stroke-width="0.72" fill="none" clip-path="url(#cb9)"/>
<rect x="295.44" y="147.50" width="14.70" height="42.90" fill="none" stroke="#000" stroke-width="0.95" />
<line x1="302.79" y1="190.40" x2="302.79" y2="193.00" stroke="#000" stroke-width="0.75" />
<clipPath id="cb10"><rect x="319.35" y="161.70" width="14.70" height="28.70"/></clipPath>
<rect x="319.35" y="161.70" width="14.70" height="28.70" fill="#080808"  />
<path d="M291.05,161.70l28.70,28.70M293.35,161.70l28.70,28.70M295.65,161.70l28.70,28.70M297.95,161.70l28.70,28.70M300.25,161.70l28.70,28.70M302.55,161.70l28.70,28.70M304.85,161.70l28.70,28.70M307.15,161.70l28.70,28.70M309.45,161.70l28.70,28.70M311.75,161.70l28.70,28.70M314.05,161.70l28.70,28.70M316.35,161.70l28.70,28.70M318.65,161.70l28.70,28.70M320.95,161.70l28.70,28.70M323.25,161.70l28.70,28.70M325.55,161.70l28.70,28.70M327.85,161.70l28.70,28.70M330.15,161.70l28.70,28.70M332.45,161.70l28.70,28.70M334.75,161.70l28.70,28.70" stroke="#f6f6f6" stroke-width="0.72" fill="none" clip-path="url(#cb10)"/>
<rect x="319.35" y="161.70" width="14.70" height="28.70" fill="none" stroke="#000" stroke-width="0.95" />
<line x1="326.70" y1="190.40" x2="326.70" y2="193.00" stroke="#000" stroke-width="0.75" />
<clipPath id="cb11"><rect x="343.26" y="158.00" width="14.70" height="32.40"/></clipPath>
<rect x="343.26" y="158.00" width="14.70" height="32.40" fill="#080808"  />
<path d="M311.63,158.00l32.40,32.40M313.93,158.00l32.40,32.40M316.23,158.00l32.40,32.40M318.53,158.00l32.40,32.40M320.83,158.00l32.40,32.40M323.13,158.00l32.40,32.40M325.43,158.00l32.40,32.40M327.73,158.00l32.40,32.40M330.03,158.00l32.40,32.40M332.33,158.00l32.40,32.40M334.63,158.00l32.40,32.40M336.93,158.00l32.40,32.40M339.23,158.00l32.40,32.40M341.53,158.00l32.40,32.40M343.83,158.00l32.40,32.40M346.13,158.00l32.40,32.40M348.43,158.00l32.40,32.40M350.73,158.00l32.40,32.40M353.03,158.00l32.40,32.40M355.33,158.00l32.40,32.40M357.63,158.00l32.40,32.40" stroke="#f6f6f6" stroke-width="0.72" fill="none" clip-path="url(#cb11)"/>
<rect x="343.26" y="158.00" width="14.70" height="32.40" fill="none" stroke="#000" stroke-width="0.95" />
<line x1="350.61" y1="190.40" x2="350.61" y2="193.00" stroke="#000" stroke-width="0.75" />
<line x1="87.60" y1="157.30" x2="87.60" y2="166.40" stroke="#f00000" stroke-width="0.45" />
<line x1="84.60" y1="157.30" x2="90.60" y2="157.30" stroke="#f00000" stroke-width="0.45" />
<line x1="84.60" y1="166.40" x2="90.60" y2="166.40" stroke="#f00000" stroke-width="0.45" />
<circle cx="87.60" cy="157.30" r="0.9" fill="#f00000" />
<circle cx="87.60" cy="161.00" r="0.9" fill="#f00000" />
<circle cx="87.60" cy="166.60" r="0.9" fill="#f00000" />
<line x1="111.51" y1="173.60" x2="111.51" y2="178.40" stroke="#0000f0" stroke-width="0.45" />
<line x1="108.71" y1="173.60" x2="114.31" y2="173.60" stroke="#0000f0" stroke-width="0.45" />
<line x1="108.71" y1="178.40" x2="114.31" y2="178.40" stroke="#0000f0" stroke-width="0.45" />
<circle cx="111.51" cy="172.80" r="0.9" fill="#0000f0" />
<circle cx="111.51" cy="175.60" r="0.9" fill="#0000f0" />
<circle cx="110.11" cy="178.60" r="0.9" fill="#0000f0" />
<circle cx="112.91" cy="178.60" r="0.9" fill="#0000f0" />
<circle cx="133.82" cy="143.20" r="0.9" fill="#f00000" />
<circle cx="137.02" cy="143.20" r="0.9" fill="#f00000" />
<line x1="158.73" y1="152.70" x2="158.73" y2="165.70" stroke="#0000f0" stroke-width="0.45" />
<line x1="155.13" y1="152.70" x2="162.33" y2="152.70" stroke="#0000f0" stroke-width="0.45" />
<line x1="155.13" y1="165.70" x2="162.33" y2="165.70" stroke="#0000f0" stroke-width="0.45" />
<circle cx="158.73" cy="146.90" r="0.9" fill="#0000f0" />
<circle cx="158.73" cy="155.00" r="0.9" fill="#0000f0" />
<circle cx="160.33" cy="162.80" r="0.9" fill="#0000f0" />
<circle cx="157.33" cy="163.80" r="0.9" fill="#0000f0" />
<circle cx="160.33" cy="168.60" r="0.9" fill="#0000f0" />
<circle cx="157.33" cy="170.20" r="0.9" fill="#0000f0" />
<circle cx="181.34" cy="166.10" r="0.9" fill="#f00000" />
<circle cx="185.14" cy="166.10" r="0.9" fill="#f00000" />
<line x1="207.15" y1="166.90" x2="207.15" y2="170.80" stroke="#0000f0" stroke-width="0.45" />
<line x1="204.55" y1="166.90" x2="209.75" y2="166.90" stroke="#0000f0" stroke-width="0.45" />
<line x1="204.55" y1="170.80" x2="209.75" y2="170.80" stroke="#0000f0" stroke-width="0.45" />
<circle cx="204.95" cy="166.70" r="0.9" fill="#0000f0" />
<circle cx="209.35" cy="167.20" r="0.9" fill="#0000f0" />
<circle cx="207.15" cy="170.60" r="0.9" fill="#0000f0" />
<line x1="231.06" y1="154.40" x2="231.06" y2="160.90" stroke="#f00000" stroke-width="0.45" />
<line x1="227.86" y1="154.40" x2="234.26" y2="154.40" stroke="#f00000" stroke-width="0.45" />
<line x1="227.86" y1="160.90" x2="234.26" y2="160.90" stroke="#f00000" stroke-width="0.45" />
<circle cx="231.06" cy="155.40" r="0.9" fill="#f00000" />
<circle cx="231.06" cy="160.40" r="0.9" fill="#f00000" />
<line x1="254.97" y1="138.90" x2="254.97" y2="162.20" stroke="#0000f0" stroke-width="0.45" />
<line x1="251.37" y1="138.90" x2="258.57" y2="138.90" stroke="#0000f0" stroke-width="0.45" />
<line x1="251.37" y1="162.20" x2="258.57" y2="162.20" stroke="#0000f0" stroke-width="0.45" />
<circle cx="254.97" cy="137.50" r="0.9" fill="#0000f0" />
<circle cx="254.97" cy="155.00" r="0.9" fill="#0000f0" />
<circle cx="254.97" cy="159.50" r="0.9" fill="#0000f0" />
<line x1="278.88" y1="151.10" x2="278.88" y2="163.80" stroke="#f00000" stroke-width="0.45" />
<line x1="275.48" y1="151.10" x2="282.28" y2="151.10" stroke="#f00000" stroke-width="0.45" />
<line x1="275.48" y1="163.80" x2="282.28" y2="163.80" stroke="#f00000" stroke-width="0.45" />
<circle cx="278.88" cy="150.70" r="0.9" fill="#f00000" />
<circle cx="278.88" cy="159.90" r="0.9" fill="#f00000" />
<line x1="302.79" y1="138.50" x2="302.79" y2="155.60" stroke="#0000f0" stroke-width="0.45" />
<line x1="299.19" y1="138.50" x2="306.39" y2="138.50" stroke="#0000f0" stroke-width="0.45" />
<line x1="299.19" y1="155.60" x2="306.39" y2="155.60" stroke="#0000f0" stroke-width="0.45" />
<circle cx="302.79" cy="135.60" r="0.9" fill="#0000f0" />
<circle cx="302.79" cy="144.30" r="0.9" fill="#0000f0" />
<circle cx="302.79" cy="155.00" r="0.9" fill="#0000f0" />
<line x1="326.70" y1="150.60" x2="326.70" y2="171.60" stroke="#f00000" stroke-width="0.45" />
<line x1="323.10" y1="150.60" x2="330.30" y2="150.60" stroke="#f00000" stroke-width="0.45" />
<line x1="323.10" y1="171.60" x2="330.30" y2="171.60" stroke="#f00000" stroke-width="0.45" />
<circle cx="326.70" cy="149.20" r="0.9" fill="#f00000" />
<circle cx="326.70" cy="165.70" r="0.9" fill="#f00000" />
<circle cx="326.70" cy="170.00" r="0.9" fill="#f00000" />
<line x1="350.61" y1="146.30" x2="350.61" y2="169.60" stroke="#0000f0" stroke-width="0.45" />
<line x1="347.01" y1="146.30" x2="354.21" y2="146.30" stroke="#0000f0" stroke-width="0.45" />
<line x1="347.01" y1="169.60" x2="354.21" y2="169.60" stroke="#0000f0" stroke-width="0.45" />
<circle cx="350.61" cy="146.70" r="0.9" fill="#0000f0" />
<circle cx="350.61" cy="155.60" r="0.9" fill="#0000f0" />
<circle cx="350.61" cy="169.60" r="0.9" fill="#0000f0" />
<polyline points="111.51,100.40 111.51,95.60 350.40,95.60 350.40,141.40" fill="none" stroke="#1c1c1c" stroke-width="0.7"/>
<text x="231.20" y="95.67" font-size="7.4" text-anchor="middle" font-weight="bold" fill="#000" letter-spacing="0" stroke="#000" stroke-width="0.12">*</text>
<polyline points="111.51,108.60 111.51,104.40 302.90,104.40 302.90,127.80" fill="none" stroke="#1c1c1c" stroke-width="0.7"/>
<text x="207.25" y="104.18" font-size="7.6" text-anchor="middle" font-weight="bold" fill="#000" letter-spacing="0.7" stroke="#000" stroke-width="0.12">****</text>
<polyline points="111.51,119.00 111.51,112.50 254.90,112.50 254.90,127.80" fill="none" stroke="#1c1c1c" stroke-width="0.7"/>
<text x="183.35" y="112.28" font-size="7.6" text-anchor="middle" font-weight="bold" fill="#000" letter-spacing="0.7" stroke="#000" stroke-width="0.12">***</text>
<polyline points="111.51,127.50 111.51,123.20 206.80,123.20 206.80,127.80" fill="none" stroke="#1c1c1c" stroke-width="0.7"/>
<text x="158.90" y="120.70" font-size="4.8" text-anchor="middle" font-weight="normal" fill="#2a2a2a" >ns</text>
<polyline points="111.51,170.60 111.51,131.90 158.00,131.90 158.00,144.30" fill="none" stroke="#1c1c1c" stroke-width="0.7"/>
<text x="135.00" y="131.07" font-size="7.4" text-anchor="middle" font-weight="bold" fill="#000" letter-spacing="0" stroke="#000" stroke-width="0.12">*</text>
<polyline points="160.20,144.30 160.20,131.90 302.90,131.90 302.90,134.60" fill="none" stroke="#1c1c1c" stroke-width="0.7"/>
<text x="231.50" y="131.07" font-size="7.4" text-anchor="middle" font-weight="bold" fill="#000" letter-spacing="0" stroke="#000" stroke-width="0.12">*</text>
<text x="74.40" y="201.70" font-size="4.8" text-anchor="end" font-weight="bold" fill="#000"  stroke="#000" stroke-width="0.168">shHGFL:</text>
<text x="74.40" y="209.90" font-size="4.8" text-anchor="end" font-weight="bold" fill="#000"  stroke="#000" stroke-width="0.168">BMDM:</text>
<text x="74.40" y="217.50" font-size="4.8" text-anchor="end" font-weight="bold" fill="#000"  stroke="#000" stroke-width="0.168">+rHGFL:</text>
<text x="86.70" y="201.60" font-size="4.8" text-anchor="middle" font-weight="bold" fill="#000"  stroke="#000" stroke-width="0.168">-</text>
<text x="86.70" y="209.80" font-size="4.8" text-anchor="middle" font-weight="bold" fill="#000"  stroke="#000" stroke-width="0.168">-</text>
<text x="86.70" y="217.40" font-size="4.8" text-anchor="middle" font-weight="bold" fill="#000"  stroke="#000" stroke-width="0.168">-</text>
<text x="110.61" y="201.60" font-size="4.8" text-anchor="middle" font-weight="bold" fill="#000"  stroke="#000" stroke-width="0.168">+</text>
<text x="110.61" y="209.80" font-size="4.8" text-anchor="middle" font-weight="bold" fill="#000"  stroke="#000" stroke-width="0.168">-</text>
<text x="110.61" y="217.40" font-size="4.8" text-anchor="middle" font-weight="bold" fill="#000"  stroke="#000" stroke-width="0.168">-</text>
<text x="134.52" y="201.60" font-size="4.8" text-anchor="middle" font-weight="bold" fill="#000"  stroke="#000" stroke-width="0.168">-</text>
<text x="135.12" y="209.90" font-size="4.7" font-weight="bold" text-anchor="middle" fill="#000" stroke="#000" stroke-width="0.1">TK<tspan font-size="2.9" dy="-1.9">+/+</tspan></text>
<text x="134.52" y="217.40" font-size="4.8" text-anchor="middle" font-weight="bold" fill="#000"  stroke="#000" stroke-width="0.168">-</text>
<text x="158.43" y="201.60" font-size="4.8" text-anchor="middle" font-weight="bold" fill="#000"  stroke="#000" stroke-width="0.168">+</text>
<text x="159.03" y="209.90" font-size="4.7" font-weight="bold" text-anchor="middle" fill="#000" stroke="#000" stroke-width="0.1">TK<tspan font-size="2.9" dy="-1.9">+/+</tspan></text>
<text x="158.43" y="217.40" font-size="4.8" text-anchor="middle" font-weight="bold" fill="#000"  stroke="#000" stroke-width="0.168">-</text>
<text x="182.34" y="201.60" font-size="4.8" text-anchor="middle" font-weight="bold" fill="#000"  stroke="#000" stroke-width="0.168">-</text>
<text x="182.94" y="209.90" font-size="4.7" font-weight="bold" text-anchor="middle" fill="#000" stroke="#000" stroke-width="0.1">TK<tspan font-size="2.9" dy="-1.9">-/-</tspan></text>
<text x="182.34" y="217.40" font-size="4.8" text-anchor="middle" font-weight="bold" fill="#000"  stroke="#000" stroke-width="0.168">-</text>
<text x="206.25" y="201.60" font-size="4.8" text-anchor="middle" font-weight="bold" fill="#000"  stroke="#000" stroke-width="0.168">+</text>
<text x="206.85" y="209.90" font-size="4.7" font-weight="bold" text-anchor="middle" fill="#000" stroke="#000" stroke-width="0.1">TK<tspan font-size="2.9" dy="-1.9">-/-</tspan></text>
<text x="206.25" y="217.40" font-size="4.8" text-anchor="middle" font-weight="bold" fill="#000"  stroke="#000" stroke-width="0.168">-</text>
<text x="230.16" y="201.60" font-size="4.8" text-anchor="middle" font-weight="bold" fill="#000"  stroke="#000" stroke-width="0.168">-</text>
<text x="230.16" y="209.80" font-size="4.8" text-anchor="middle" font-weight="bold" fill="#000"  stroke="#000" stroke-width="0.168">-</text>
<text x="230.16" y="217.40" font-size="4.8" text-anchor="middle" font-weight="bold" fill="#000"  stroke="#000" stroke-width="0.168">+</text>
<text x="254.07" y="201.60" font-size="4.8" text-anchor="middle" font-weight="bold" fill="#000"  stroke="#000" stroke-width="0.168">+</text>
<text x="254.07" y="209.80" font-size="4.8" text-anchor="middle" font-weight="bold" fill="#000"  stroke="#000" stroke-width="0.168">-</text>
<text x="254.07" y="217.40" font-size="4.8" text-anchor="middle" font-weight="bold" fill="#000"  stroke="#000" stroke-width="0.168">+</text>
<text x="277.98" y="201.60" font-size="4.8" text-anchor="middle" font-weight="bold" fill="#000"  stroke="#000" stroke-width="0.168">-</text>
<text x="278.58" y="209.90" font-size="4.7" font-weight="bold" text-anchor="middle" fill="#000" stroke="#000" stroke-width="0.1">TK<tspan font-size="2.9" dy="-1.9">+/+</tspan></text>
<text x="277.98" y="217.40" font-size="4.8" text-anchor="middle" font-weight="bold" fill="#000"  stroke="#000" stroke-width="0.168">+</text>
<text x="301.89" y="201.60" font-size="4.8" text-anchor="middle" font-weight="bold" fill="#000"  stroke="#000" stroke-width="0.168">+</text>
<text x="302.49" y="209.90" font-size="4.7" font-weight="bold" text-anchor="middle" fill="#000" stroke="#000" stroke-width="0.1">TK<tspan font-size="2.9" dy="-1.9">+/+</tspan></text>
<text x="301.89" y="217.40" font-size="4.8" text-anchor="middle" font-weight="bold" fill="#000"  stroke="#000" stroke-width="0.168">+</text>
<text x="325.80" y="201.60" font-size="4.8" text-anchor="middle" font-weight="bold" fill="#000"  stroke="#000" stroke-width="0.168">-</text>
<text x="326.40" y="209.90" font-size="4.7" font-weight="bold" text-anchor="middle" fill="#000" stroke="#000" stroke-width="0.1">TK<tspan font-size="2.9" dy="-1.9">-/-</tspan></text>
<text x="325.80" y="217.40" font-size="4.8" text-anchor="middle" font-weight="bold" fill="#000"  stroke="#000" stroke-width="0.168">+</text>
<text x="349.71" y="201.60" font-size="4.8" text-anchor="middle" font-weight="bold" fill="#000"  stroke="#000" stroke-width="0.168">+</text>
<text x="350.31" y="209.90" font-size="4.7" font-weight="bold" text-anchor="middle" fill="#000" stroke="#000" stroke-width="0.1">TK<tspan font-size="2.9" dy="-1.9">-/-</tspan></text>
<text x="349.71" y="217.40" font-size="4.8" text-anchor="middle" font-weight="bold" fill="#000"  stroke="#000" stroke-width="0.168">+</text>
<use href="#cell" transform="translate(84.50,231.20) scale(0.94,0.91)"/>
<path d="M83.90,239.4 C80.70,240.4 80.90,245.2 84.30,245.4 C87.10,245.2 87.30,242.0 85.30,241.4" fill="none" stroke="#8a8a8a" stroke-width="0.45"/>
<circle cx="87.56" cy="241.47" r="0.55" fill="#7fc9e9" />
<circle cx="91.16" cy="240.50" r="0.55" fill="#7fc9e9" />
<circle cx="89.89" cy="244.13" r="0.55" fill="#7fc9e9" />
<circle cx="84.64" cy="245.89" r="0.55" fill="#7fc9e9" />
<circle cx="88.67" cy="249.85" r="0.55" fill="#7fc9e9" />
<circle cx="85.36" cy="242.37" r="0.55" fill="#7fc9e9" />
<circle cx="90.90" cy="251.35" r="0.55" fill="#7fc9e9" />
<circle cx="93.44" cy="243.19" r="0.55" fill="#7fc9e9" />
<circle cx="87.46" cy="246.86" r="0.55" fill="#7fc9e9" />
<circle cx="92.74" cy="248.27" r="0.55" fill="#7fc9e9" />
<circle cx="84.43" cy="247.89" r="0.55" fill="#7fc9e9" />
<circle cx="89.22" cy="247.84" r="0.55" fill="#7fc9e9" />
<circle cx="93.01" cy="250.31" r="0.55" fill="#7fc9e9" />
<circle cx="87.06" cy="244.75" r="0.55" fill="#7fc9e9" />
<circle cx="85.84" cy="249.17" r="0.55" fill="#7fc9e9" />
<circle cx="94.52" cy="245.15" r="0.55" fill="#7fc9e9" />
<circle cx="92.25" cy="245.53" r="0.55" fill="#7fc9e9" />
<circle cx="94.78" cy="247.75" r="0.55" fill="#7fc9e9" />
<circle cx="93.24" cy="241.30" r="0.55" fill="#7fc9e9" />
<circle cx="86.42" cy="251.41" r="0.55" fill="#7fc9e9" />
<use href="#cell" transform="translate(108.50,231.20) scale(0.94,0.91)"/>
<use href="#cell" transform="translate(132.50,231.20) scale(0.94,0.91)"/>
<use href="#mac" x="132.50" y="260.1"/>
<path d="M125.90,249.8 L125.90,241.0" fill="none" stroke="#333" stroke-width="0.5"/>
<path d="M125.90,239.6 l-0.9,2.0 l1.8,0 z" fill="#222"/>
<path d="M135.70,240.6 C138.70,242.6 138.90,246.6 136.10,249.8" fill="none" stroke="#333" stroke-width="0.5"/>
<path d="M135.20,250.9 l0.3,-2.1 l1.6,1.2 z" fill="#222"/>
<path d="M131.90,239.4 C128.70,240.4 128.90,245.2 132.30,245.4 C135.10,245.2 135.30,242.0 133.30,241.4" fill="none" stroke="#8a8a8a" stroke-width="0.45"/>
<circle cx="131.73" cy="245.36" r="0.5" fill="#7fc9e9" />
<circle cx="129.93" cy="244.75" r="0.5" fill="#7fc9e9" />
<circle cx="134.19" cy="240.21" r="0.5" fill="#7fc9e9" />
<circle cx="130.76" cy="241.43" r="0.5" fill="#7fc9e9" />
<circle cx="131.91" cy="250.03" r="0.5" fill="#7fc9e9" />
<circle cx="134.92" cy="242.84" r="0.5" fill="#7fc9e9" />
<circle cx="133.04" cy="247.70" r="0.5" fill="#7fc9e9" />
<circle cx="133.93" cy="244.68" r="0.5" fill="#7fc9e9" />
<circle cx="132.70" cy="242.62" r="0.5" fill="#7fc9e9" />
<use href="#cell" transform="translate(156.50,231.20) scale(0.94,0.91)"/>
<use href="#mac" x="156.50" y="260.1"/>
<path d="M149.90,249.8 L149.90,241.0" fill="none" stroke="#333" stroke-width="0.5"/>
<path d="M149.90,239.6 l-0.9,2.0 l1.8,0 z" fill="#222"/>
<path d="M159.70,240.6 C162.70,242.6 162.90,246.6 160.10,249.8" fill="none" stroke="#333" stroke-width="0.5"/>
<path d="M159.20,250.9 l0.3,-2.1 l1.6,1.2 z" fill="#222"/>
<use href="#cell" transform="translate(180.50,231.20) scale(0.94,0.91)"/>
<use href="#mac" x="180.50" y="260.1"/>
<path d="M173.90,249.8 L173.90,241.0" fill="none" stroke="#333" stroke-width="0.5"/>
<path d="M173.90,239.6 l-0.9,2.0 l1.8,0 z" fill="#222"/>
<path d="M183.70,240.6 C186.70,242.6 186.90,246.6 184.10,249.8" fill="none" stroke="#333" stroke-width="0.5"/>
<path d="M183.20,250.9 l0.3,-2.1 l1.6,1.2 z" fill="#222"/>
<path d="M179.90,239.4 C176.70,240.4 176.90,245.2 180.30,245.4 C183.10,245.2 183.30,242.0 181.30,241.4" fill="none" stroke="#8a8a8a" stroke-width="0.45"/>
<circle cx="177.53" cy="241.78" r="0.5" fill="#7fc9e9" />
<circle cx="179.07" cy="243.36" r="0.5" fill="#7fc9e9" />
<circle cx="182.47" cy="243.19" r="0.5" fill="#7fc9e9" />
<circle cx="180.50" cy="241.96" r="0.5" fill="#7fc9e9" />
<circle cx="179.34" cy="240.20" r="0.5" fill="#7fc9e9" />
<circle cx="182.27" cy="246.06" r="0.5" fill="#7fc9e9" />
<circle cx="178.14" cy="245.22" r="0.5" fill="#7fc9e9" />
<circle cx="180.46" cy="249.18" r="0.5" fill="#7fc9e9" />
<circle cx="181.93" cy="250.81" r="0.5" fill="#7fc9e9" />
<use href="#cell" transform="translate(204.50,231.20) scale(0.94,0.91)"/>
<use href="#mac" x="204.50" y="260.1"/>
<path d="M197.90,249.8 L197.90,241.0" fill="none" stroke="#333" stroke-width="0.5"/>
<path d="M197.90,239.6 l-0.9,2.0 l1.8,0 z" fill="#222"/>
<path d="M207.70,240.6 C210.70,242.6 210.90,246.6 208.10,249.8" fill="none" stroke="#333" stroke-width="0.5"/>
<path d="M207.20,250.9 l0.3,-2.1 l1.6,1.2 z" fill="#222"/>
<use href="#cell" transform="translate(228.50,231.20) scale(0.94,0.91)"/>
<circle cx="225.99" cy="250.45" r="0.62" fill="#3fa5d8" />
<circle cx="232.26" cy="247.94" r="0.62" fill="#3fa5d8" />
<circle cx="227.06" cy="244.25" r="0.62" fill="#3fa5d8" />
<circle cx="221.32" cy="249.28" r="0.62" fill="#3fa5d8" />
<circle cx="224.50" cy="241.89" r="0.62" fill="#3fa5d8" />
<circle cx="235.07" cy="248.38" r="0.62" fill="#3fa5d8" />
<circle cx="225.14" cy="245.68" r="0.62" fill="#3fa5d8" />
<circle cx="222.81" cy="245.51" r="0.62" fill="#3fa5d8" />
<circle cx="224.63" cy="252.11" r="0.62" fill="#3fa5d8" />
<circle cx="236.83" cy="246.80" r="0.62" fill="#3fa5d8" />
<circle cx="220.12" cy="244.68" r="0.62" fill="#3fa5d8" />
<circle cx="228.26" cy="246.24" r="0.62" fill="#3fa5d8" />
<circle cx="232.42" cy="251.05" r="0.62" fill="#3fa5d8" />
<circle cx="228.78" cy="250.49" r="0.62" fill="#3fa5d8" />
<circle cx="229.71" cy="247.84" r="0.62" fill="#3fa5d8" />
<circle cx="228.52" cy="239.84" r="0.62" fill="#3fa5d8" />
<circle cx="231.44" cy="240.65" r="0.62" fill="#3fa5d8" />
<circle cx="232.77" cy="243.03" r="0.62" fill="#3fa5d8" />
<circle cx="222.64" cy="243.05" r="0.62" fill="#3fa5d8" />
<circle cx="235.47" cy="242.35" r="0.62" fill="#3fa5d8" />
<circle cx="234.21" cy="246.31" r="0.62" fill="#3fa5d8" />
<circle cx="228.89" cy="242.23" r="0.62" fill="#3fa5d8" />
<circle cx="225.39" cy="240.08" r="0.62" fill="#3fa5d8" />
<circle cx="223.91" cy="249.53" r="0.62" fill="#3fa5d8" />
<circle cx="231.53" cy="244.65" r="0.62" fill="#3fa5d8" />
<circle cx="233.55" cy="240.81" r="0.62" fill="#3fa5d8" />
<circle cx="220.68" cy="246.87" r="0.62" fill="#3fa5d8" />
<circle cx="226.91" cy="252.50" r="0.62" fill="#3fa5d8" />
<circle cx="236.10" cy="244.56" r="0.62" fill="#3fa5d8" />
<circle cx="227.42" cy="248.23" r="0.62" fill="#3fa5d8" />
<circle cx="230.28" cy="251.80" r="0.62" fill="#3fa5d8" />
<circle cx="235.01" cy="251.18" r="0.62" fill="#3fa5d8" />
<circle cx="225.35" cy="248.09" r="0.62" fill="#3fa5d8" />
<circle cx="226.84" cy="241.99" r="0.62" fill="#3fa5d8" />
<path d="M227.90,239.4 C224.70,240.4 224.90,245.2 228.30,245.4 C231.10,245.2 231.30,242.0 229.30,241.4" fill="none" stroke="#8a8a8a" stroke-width="0.45"/>
<use href="#cell" transform="translate(252.50,231.20) scale(0.94,0.91)"/>
<circle cx="260.61" cy="247.01" r="0.62" fill="#3fa5d8" />
<circle cx="257.43" cy="241.55" r="0.62" fill="#3fa5d8" />
<circle cx="248.17" cy="244.57" r="0.62" fill="#3fa5d8" />
<circle cx="244.36" cy="247.41" r="0.62" fill="#3fa5d8" />
<circle cx="256.27" cy="245.25" r="0.62" fill="#3fa5d8" />
<circle cx="246.99" cy="249.34" r="0.62" fill="#3fa5d8" />
<circle cx="249.97" cy="249.57" r="0.62" fill="#3fa5d8" />
<circle cx="255.80" cy="250.37" r="0.62" fill="#3fa5d8" />
<circle cx="254.49" cy="241.08" r="0.62" fill="#3fa5d8" />
<circle cx="253.54" cy="250.08" r="0.62" fill="#3fa5d8" />
<circle cx="255.71" cy="243.06" r="0.62" fill="#3fa5d8" />
<circle cx="258.52" cy="247.24" r="0.62" fill="#3fa5d8" />
<circle cx="247.29" cy="246.89" r="0.62" fill="#3fa5d8" />
<circle cx="250.65" cy="241.65" r="0.62" fill="#3fa5d8" />
<circle cx="258.64" cy="244.84" r="0.62" fill="#3fa5d8" />
<circle cx="245.41" cy="244.01" r="0.62" fill="#3fa5d8" />
<circle cx="247.82" cy="251.24" r="0.62" fill="#3fa5d8" />
<circle cx="252.15" cy="247.19" r="0.62" fill="#3fa5d8" />
<circle cx="250.77" cy="244.33" r="0.62" fill="#3fa5d8" />
<circle cx="252.00" cy="252.43" r="0.62" fill="#3fa5d8" />
<circle cx="259.10" cy="249.71" r="0.62" fill="#3fa5d8" />
<circle cx="254.99" cy="247.92" r="0.62" fill="#3fa5d8" />
<circle cx="253.57" cy="245.00" r="0.62" fill="#3fa5d8" />
<circle cx="249.66" cy="252.45" r="0.62" fill="#3fa5d8" />
<circle cx="254.08" cy="252.44" r="0.62" fill="#3fa5d8" />
<circle cx="248.53" cy="240.10" r="0.62" fill="#3fa5d8" />
<circle cx="259.97" cy="242.52" r="0.62" fill="#3fa5d8" />
<circle cx="249.85" cy="246.13" r="0.62" fill="#3fa5d8" />
<circle cx="252.07" cy="239.97" r="0.62" fill="#3fa5d8" />
<circle cx="246.79" cy="241.63" r="0.62" fill="#3fa5d8" />
<circle cx="252.78" cy="242.76" r="0.62" fill="#3fa5d8" />
<circle cx="257.59" cy="251.97" r="0.62" fill="#3fa5d8" />
<circle cx="248.80" cy="242.53" r="0.62" fill="#3fa5d8" />
<circle cx="261.00" cy="244.70" r="0.62" fill="#3fa5d8" />
<use href="#cell" transform="translate(276.50,231.20) scale(0.94,0.91)"/>
<use href="#mac" x="276.50" y="260.1"/>
<path d="M269.90,249.8 L269.90,241.0" fill="none" stroke="#333" stroke-width="0.5"/>
<path d="M269.90,239.6 l-0.9,2.0 l1.8,0 z" fill="#222"/>
<path d="M279.70,240.6 C282.70,242.6 282.90,246.6 280.10,249.8" fill="none" stroke="#333" stroke-width="0.5"/>
<path d="M279.20,250.9 l0.3,-2.1 l1.6,1.2 z" fill="#222"/>
<circle cx="278.51" cy="246.49" r="0.62" fill="#3fa5d8" />
<circle cx="272.85" cy="240.03" r="0.62" fill="#3fa5d8" />
<circle cx="274.70" cy="248.45" r="0.62" fill="#3fa5d8" />
<circle cx="271.73" cy="249.29" r="0.62" fill="#3fa5d8" />
<circle cx="273.22" cy="243.89" r="0.62" fill="#3fa5d8" />
<circle cx="276.80" cy="240.63" r="0.62" fill="#3fa5d8" />
<circle cx="280.00" cy="242.07" r="0.62" fill="#3fa5d8" />
<circle cx="272.46" cy="242.00" r="0.62" fill="#3fa5d8" />
<circle cx="278.66" cy="249.91" r="0.62" fill="#3fa5d8" />
<circle cx="282.26" cy="246.30" r="0.62" fill="#3fa5d8" />
<circle cx="275.88" cy="243.27" r="0.62" fill="#3fa5d8" />
<circle cx="270.22" cy="245.22" r="0.62" fill="#3fa5d8" />
<circle cx="282.38" cy="248.68" r="0.62" fill="#3fa5d8" />
<circle cx="281.22" cy="243.91" r="0.62" fill="#3fa5d8" />
<circle cx="272.89" cy="246.85" r="0.62" fill="#3fa5d8" />
<circle cx="276.65" cy="251.34" r="0.62" fill="#3fa5d8" />
<circle cx="277.32" cy="248.31" r="0.62" fill="#3fa5d8" />
<circle cx="275.45" cy="245.98" r="0.62" fill="#3fa5d8" />
<circle cx="281.12" cy="250.40" r="0.62" fill="#3fa5d8" />
<circle cx="279.04" cy="244.13" r="0.62" fill="#3fa5d8" />
<circle cx="270.58" cy="242.89" r="0.62" fill="#3fa5d8" />
<circle cx="273.13" cy="250.97" r="0.62" fill="#3fa5d8" />
<circle cx="280.42" cy="247.87" r="0.62" fill="#3fa5d8" />
<circle cx="278.89" cy="239.63" r="0.62" fill="#3fa5d8" />
<circle cx="278.97" cy="251.92" r="0.62" fill="#3fa5d8" />
<circle cx="277.76" cy="242.47" r="0.62" fill="#3fa5d8" />
<path d="M275.90,239.4 C272.70,240.4 272.90,245.2 276.30,245.4 C279.10,245.2 279.30,242.0 277.30,241.4" fill="none" stroke="#8a8a8a" stroke-width="0.45"/>
<use href="#cell" transform="translate(300.50,231.20) scale(0.94,0.91)"/>
<use href="#mac" x="300.50" y="260.1"/>
<path d="M293.90,249.8 L293.90,241.0" fill="none" stroke="#333" stroke-width="0.5"/>
<path d="M293.90,239.6 l-0.9,2.0 l1.8,0 z" fill="#222"/>
<path d="M303.70,240.6 C306.70,242.6 306.90,246.6 304.10,249.8" fill="none" stroke="#333" stroke-width="0.5"/>
<path d="M303.20,250.9 l0.3,-2.1 l1.6,1.2 z" fill="#222"/>
<circle cx="294.17" cy="244.19" r="0.62" fill="#3fa5d8" />
<circle cx="298.91" cy="239.34" r="0.62" fill="#3fa5d8" />
<circle cx="298.81" cy="248.94" r="0.62" fill="#3fa5d8" />
<circle cx="302.14" cy="241.61" r="0.62" fill="#3fa5d8" />
<circle cx="294.17" cy="247.83" r="0.62" fill="#3fa5d8" />
<circle cx="296.54" cy="250.15" r="0.62" fill="#3fa5d8" />
<circle cx="305.90" cy="242.19" r="0.62" fill="#3fa5d8" />
<circle cx="301.64" cy="246.56" r="0.62" fill="#3fa5d8" />
<circle cx="295.51" cy="241.92" r="0.62" fill="#3fa5d8" />
<circle cx="298.01" cy="244.53" r="0.62" fill="#3fa5d8" />
<circle cx="297.12" cy="246.72" r="0.62" fill="#3fa5d8" />
<circle cx="304.41" cy="249.57" r="0.62" fill="#3fa5d8" />
<circle cx="300.22" cy="251.83" r="0.62" fill="#3fa5d8" />
<circle cx="301.14" cy="244.16" r="0.62" fill="#3fa5d8" />
<circle cx="304.46" cy="240.54" r="0.62" fill="#3fa5d8" />
<circle cx="306.58" cy="247.93" r="0.62" fill="#3fa5d8" />
<circle cx="300.13" cy="241.73" r="0.62" fill="#3fa5d8" />
<circle cx="302.04" cy="249.18" r="0.62" fill="#3fa5d8" />
<circle cx="304.83" cy="245.87" r="0.62" fill="#3fa5d8" />
<circle cx="306.97" cy="244.83" r="0.62" fill="#3fa5d8" />
<circle cx="297.55" cy="241.15" r="0.62" fill="#3fa5d8" />
<circle cx="303.93" cy="243.27" r="0.62" fill="#3fa5d8" />
<circle cx="303.11" cy="251.57" r="0.62" fill="#3fa5d8" />
<circle cx="301.56" cy="239.36" r="0.62" fill="#3fa5d8" />
<circle cx="299.14" cy="246.21" r="0.62" fill="#3fa5d8" />
<circle cx="298.26" cy="251.29" r="0.62" fill="#3fa5d8" />
<use href="#cell" transform="translate(324.50,231.20) scale(0.94,0.91)"/>
<use href="#mac" x="324.50" y="260.1"/>
<path d="M317.90,249.8 L317.90,241.0" fill="none" stroke="#333" stroke-width="0.5"/>
<path d="M317.90,239.6 l-0.9,2.0 l1.8,0 z" fill="#222"/>
<path d="M327.70,240.6 C330.70,242.6 330.90,246.6 328.10,249.8" fill="none" stroke="#333" stroke-width="0.5"/>
<path d="M327.20,250.9 l0.3,-2.1 l1.6,1.2 z" fill="#222"/>
<circle cx="330.46" cy="243.39" r="0.62" fill="#3fa5d8" />
<circle cx="325.90" cy="240.62" r="0.62" fill="#3fa5d8" />
<circle cx="323.32" cy="247.18" r="0.62" fill="#3fa5d8" />
<circle cx="326.32" cy="243.59" r="0.62" fill="#3fa5d8" />
<circle cx="329.79" cy="245.80" r="0.62" fill="#3fa5d8" />
<circle cx="321.26" cy="246.70" r="0.62" fill="#3fa5d8" />
<circle cx="321.54" cy="249.21" r="0.62" fill="#3fa5d8" />
<circle cx="319.96" cy="242.55" r="0.62" fill="#3fa5d8" />
<circle cx="323.69" cy="250.82" r="0.62" fill="#3fa5d8" />
<circle cx="322.29" cy="244.26" r="0.62" fill="#3fa5d8" />
<circle cx="328.12" cy="250.76" r="0.62" fill="#3fa5d8" />
<circle cx="319.68" cy="250.53" r="0.62" fill="#3fa5d8" />
<circle cx="323.57" cy="242.30" r="0.62" fill="#3fa5d8" />
<circle cx="322.40" cy="239.79" r="0.62" fill="#3fa5d8" />
<circle cx="329.09" cy="240.70" r="0.62" fill="#3fa5d8" />
<circle cx="326.39" cy="247.93" r="0.62" fill="#3fa5d8" />
<circle cx="318.47" cy="247.04" r="0.62" fill="#3fa5d8" />
<circle cx="324.68" cy="245.30" r="0.62" fill="#3fa5d8" />
<circle cx="329.27" cy="248.93" r="0.62" fill="#3fa5d8" />
<circle cx="328.47" cy="243.11" r="0.62" fill="#3fa5d8" />
<circle cx="321.57" cy="251.50" r="0.62" fill="#3fa5d8" />
<circle cx="327.33" cy="245.46" r="0.62" fill="#3fa5d8" />
<circle cx="331.02" cy="247.50" r="0.62" fill="#3fa5d8" />
<circle cx="319.57" cy="244.61" r="0.62" fill="#3fa5d8" />
<circle cx="325.66" cy="251.75" r="0.62" fill="#3fa5d8" />
<circle cx="324.71" cy="249.04" r="0.62" fill="#3fa5d8" />
<path d="M323.90,239.4 C320.70,240.4 320.90,245.2 324.30,245.4 C327.10,245.2 327.30,242.0 325.30,241.4" fill="none" stroke="#8a8a8a" stroke-width="0.45"/>
<use href="#cell" transform="translate(348.50,231.20) scale(0.94,0.91)"/>
<use href="#mac" x="348.50" y="260.1"/>
<path d="M341.90,249.8 L341.90,241.0" fill="none" stroke="#333" stroke-width="0.5"/>
<path d="M341.90,239.6 l-0.9,2.0 l1.8,0 z" fill="#222"/>
<path d="M351.70,240.6 C354.70,242.6 354.90,246.6 352.10,249.8" fill="none" stroke="#333" stroke-width="0.5"/>
<path d="M351.20,250.9 l0.3,-2.1 l1.6,1.2 z" fill="#222"/>
<circle cx="348.37" cy="239.62" r="0.62" fill="#3fa5d8" />
<circle cx="349.12" cy="244.50" r="0.62" fill="#3fa5d8" />
<circle cx="346.32" cy="244.25" r="0.62" fill="#3fa5d8" />
<circle cx="351.76" cy="250.53" r="0.62" fill="#3fa5d8" />
<circle cx="347.92" cy="250.02" r="0.62" fill="#3fa5d8" />
<circle cx="343.56" cy="245.80" r="0.62" fill="#3fa5d8" />
<circle cx="347.01" cy="241.35" r="0.62" fill="#3fa5d8" />
<circle cx="354.58" cy="247.00" r="0.62" fill="#3fa5d8" />
<circle cx="349.57" cy="246.85" r="0.62" fill="#3fa5d8" />
<circle cx="344.40" cy="240.37" r="0.62" fill="#3fa5d8" />
<circle cx="351.21" cy="248.50" r="0.62" fill="#3fa5d8" />
<circle cx="350.70" cy="242.46" r="0.62" fill="#3fa5d8" />
<circle cx="343.08" cy="249.12" r="0.62" fill="#3fa5d8" />
<circle cx="342.07" cy="247.20" r="0.62" fill="#3fa5d8" />
<circle cx="347.43" cy="247.75" r="0.62" fill="#3fa5d8" />
<circle cx="354.29" cy="243.58" r="0.62" fill="#3fa5d8" />
<circle cx="341.90" cy="244.56" r="0.62" fill="#3fa5d8" />
<circle cx="352.58" cy="240.66" r="0.62" fill="#3fa5d8" />
<circle cx="344.21" cy="243.71" r="0.62" fill="#3fa5d8" />
<circle cx="351.29" cy="244.94" r="0.62" fill="#3fa5d8" />
<circle cx="349.06" cy="251.77" r="0.62" fill="#3fa5d8" />
<circle cx="346.33" cy="251.92" r="0.62" fill="#3fa5d8" />
<circle cx="345.42" cy="249.33" r="0.62" fill="#3fa5d8" />
<circle cx="342.28" cy="242.36" r="0.62" fill="#3fa5d8" />
<circle cx="345.47" cy="246.43" r="0.62" fill="#3fa5d8" />
<circle cx="350.48" cy="239.27" r="0.62" fill="#3fa5d8" />
<text x="6.90" y="276.70" font-size="10" text-anchor="start" font-weight="bold" fill="#000" stroke="#000" stroke-width="0.35">D</text>
<rect x="61.60" y="280.10" width="108.10" height="246.70" fill="#000"  />
<rect x="61.60" y="280.10" width="54.60" height="4.50" fill="#0a8a0a"  />
<rect x="61.60" y="304.70" width="54.60" height="10.80" fill="#087c08"  />
<rect x="61.60" y="428.50" width="54.60" height="98.30" fill="#088208"  />
<rect x="116.20" y="282.20" width="53.50" height="2.30" fill="#0aa80a"  />
<rect x="116.20" y="304.70" width="53.50" height="10.80" fill="#0b8a0b"  />
<rect x="116.20" y="304.70" width="53.50" height="3.40" fill="#097f09"  />
<rect x="116.20" y="315.40" width="53.50" height="113.10" fill="url(#gD1)"  />
<rect x="116.20" y="428.50" width="53.50" height="98.30" fill="url(#gD2)"  />
<rect x="61.60" y="280.10" width="108.10" height="246.70" fill="none" stroke="#111" stroke-width="0.4" />
<line x1="169.70" y1="280.10" x2="169.70" y2="527.00" stroke="#000" stroke-width="0.9" />
<line x1="171.00" y1="280.10" x2="171.00" y2="526.80" stroke="#d0d0d0" stroke-width="0.5" />
<text x="88.20" y="276.60" font-size="4.2" text-anchor="middle" font-weight="bold" fill="#000"  stroke="#000" stroke-width="0.147">R7</text>
<line x1="88.20" y1="277.80" x2="88.20" y2="279.80" stroke="#111" stroke-width="0.5" />
<text x="143.00" y="276.60" font-size="4.2" text-anchor="middle" font-weight="bold" fill="#000"  stroke="#000" stroke-width="0.147">R7 sgRON</text>
<line x1="143.00" y1="277.80" x2="143.00" y2="279.80" stroke="#111" stroke-width="0.5" />
<text x="160.20" y="275.20" font-size="5.2" text-anchor="start" font-weight="bold" fill="#000"  stroke="#000" stroke-width="0.182">Regulation by RON:</text>
<line x1="58.50" y1="281.21" x2="61.50" y2="281.21" stroke="#1a1a1a" stroke-width="0.85" />
<text x="58.00" y="282.19" font-size="2.8" text-anchor="end" font-weight="bold" fill="#111" stroke="none">Reg3G</text>
<line x1="58.50" y1="283.43" x2="61.50" y2="283.43" stroke="#1a1a1a" stroke-width="0.85" />
<text x="58.00" y="284.41" font-size="2.8" text-anchor="end" font-weight="bold" fill="#111" stroke="none">Pentraxin 3/TSG-14</text>
<line x1="58.50" y1="285.66" x2="61.50" y2="285.66" stroke="#1a1a1a" stroke-width="0.85" />
<text x="58.00" y="286.64" font-size="2.8" text-anchor="end" font-weight="bold" fill="#111" stroke="none">C-Reactive Protein/CRP</text>
<line x1="58.50" y1="287.88" x2="61.50" y2="287.88" stroke="#1a1a1a" stroke-width="0.85" />
<text x="58.00" y="288.86" font-size="2.8" text-anchor="end" font-weight="bold" fill="#111" stroke="none">Endoglin/CD105</text>
<line x1="58.50" y1="290.10" x2="61.50" y2="290.10" stroke="#1a1a1a" stroke-width="0.85" />
<text x="58.00" y="291.08" font-size="2.8" text-anchor="end" font-weight="bold" fill="#111" stroke="none">IL-4</text>
<line x1="58.50" y1="292.32" x2="61.50" y2="292.32" stroke="#1a1a1a" stroke-width="0.85" />
<text x="58.00" y="293.30" font-size="2.8" text-anchor="end" font-weight="bold" fill="#111" stroke="none">HGF</text>
<line x1="58.50" y1="294.55" x2="61.50" y2="294.55" stroke="#1a1a1a" stroke-width="0.85" />
<text x="58.00" y="295.53" font-size="2.8" text-anchor="end" font-weight="bold" fill="#111" stroke="none">P-Selectin/CD62P</text>
<line x1="58.50" y1="296.77" x2="61.50" y2="296.77" stroke="#1a1a1a" stroke-width="0.85" />
<text x="58.00" y="297.75" font-size="2.8" text-anchor="end" font-weight="bold" fill="#111" stroke="none">Gas 6</text>
<line x1="58.50" y1="298.99" x2="61.50" y2="298.99" stroke="#1a1a1a" stroke-width="0.85" />
<text x="58.00" y="299.97" font-size="2.8" text-anchor="end" font-weight="bold" fill="#111" stroke="none">Osteoprotegerin/TNFRSF11B</text>
<line x1="58.50" y1="301.21" x2="61.50" y2="301.21" stroke="#1a1a1a" stroke-width="0.85" />
<text x="58.00" y="302.19" font-size="2.8" text-anchor="end" font-weight="bold" fill="#111" stroke="none">M-CSF</text>
<line x1="58.50" y1="303.44" x2="61.50" y2="303.44" stroke="#1a1a1a" stroke-width="0.85" />
<text x="58.00" y="304.42" font-size="2.8" text-anchor="end" font-weight="bold" fill="#111" stroke="none">E-Selectin/CD62E</text>
<line x1="58.50" y1="305.66" x2="61.50" y2="305.66" stroke="#1a1a1a" stroke-width="0.85" />
<text x="58.00" y="306.64" font-size="2.8" text-anchor="end" font-weight="bold" fill="#111" stroke="none">Pentraxin 2/SAP</text>
<line x1="58.50" y1="307.88" x2="61.50" y2="307.88" stroke="#1a1a1a" stroke-width="0.85" />
<text x="58.00" y="308.86" font-size="2.8" text-anchor="end" font-weight="bold" fill="#111" stroke="none">CCL17/TARC</text>
<line x1="58.50" y1="310.10" x2="61.50" y2="310.10" stroke="#1a1a1a" stroke-width="0.85" />
<text x="58.00" y="311.08" font-size="2.8" text-anchor="end" font-weight="bold" fill="#111" stroke="none">IL-15</text>
<line x1="58.50" y1="312.33" x2="61.50" y2="312.33" stroke="#1a1a1a" stroke-width="0.85" />
<text x="58.00" y="313.31" font-size="2.8" text-anchor="end" font-weight="bold" fill="#111" stroke="none">Proliferin</text>
<line x1="58.50" y1="314.55" x2="61.50" y2="314.55" stroke="#1a1a1a" stroke-width="0.85" />
<text x="58.00" y="315.53" font-size="2.8" text-anchor="end" font-weight="bold" fill="#111" stroke="none">Serpin E1/PAI-1</text>
<line x1="58.50" y1="316.77" x2="61.50" y2="316.77" stroke="#1a1a1a" stroke-width="0.85" />
<text x="58.00" y="317.75" font-size="2.8" text-anchor="end" font-weight="bold" fill="#111" stroke="none">CCL19/MIP-3 beta</text>
<line x1="58.50" y1="318.99" x2="61.50" y2="318.99" stroke="#1a1a1a" stroke-width="0.85" />
<text x="58.00" y="319.97" font-size="2.8" text-anchor="end" font-weight="bold" fill="#111" stroke="none">ICAM-1/CD54</text>
<line x1="58.50" y1="321.22" x2="61.50" y2="321.22" stroke="#1a1a1a" stroke-width="0.85" />
<text x="58.00" y="322.20" font-size="2.8" text-anchor="end" font-weight="bold" fill="#111" stroke="none">IL-2</text>
<line x1="58.50" y1="323.44" x2="61.50" y2="323.44" stroke="#1a1a1a" stroke-width="0.85" />
<text x="58.00" y="324.42" font-size="2.8" text-anchor="end" font-weight="bold" fill="#111" stroke="none">Chitinase 3-like 1</text>
<line x1="58.50" y1="325.66" x2="61.50" y2="325.66" stroke="#1a1a1a" stroke-width="0.85" />
<text x="58.00" y="326.64" font-size="2.8" text-anchor="end" font-weight="bold" fill="#111" stroke="none">EGF</text>
<line x1="58.50" y1="327.88" x2="61.50" y2="327.88" stroke="#1a1a1a" stroke-width="0.85" />
<text x="58.00" y="328.86" font-size="2.8" text-anchor="end" font-weight="bold" fill="#111" stroke="none">Amphiregulin</text>
<line x1="58.50" y1="330.11" x2="61.50" y2="330.11" stroke="#1a1a1a" stroke-width="0.85" />
<text x="58.00" y="331.09" font-size="2.8" text-anchor="end" font-weight="bold" fill="#111" stroke="none">TIM-1/KIM-1/HAVCR</text>
<line x1="58.50" y1="332.33" x2="61.50" y2="332.33" stroke="#1a1a1a" stroke-width="0.85" />
<text x="58.00" y="333.31" font-size="2.8" text-anchor="end" font-weight="bold" fill="#111" stroke="none">DKK-1</text>
<line x1="58.50" y1="334.55" x2="61.50" y2="334.55" stroke="#1a1a1a" stroke-width="0.85" />
<text x="58.00" y="335.53" font-size="2.8" text-anchor="end" font-weight="bold" fill="#111" stroke="none">IL-1ra/IL-1F3</text>
<line x1="58.50" y1="336.77" x2="61.50" y2="336.77" stroke="#1a1a1a" stroke-width="0.85" />
<text x="58.00" y="337.75" font-size="2.8" text-anchor="end" font-weight="bold" fill="#111" stroke="none">CCL20/MIP-3 alpha</text>
<line x1="58.50" y1="339.00" x2="61.50" y2="339.00" stroke="#1a1a1a" stroke-width="0.85" />
<text x="58.00" y="339.98" font-size="2.8" text-anchor="end" font-weight="bold" fill="#111" stroke="none">Lipocalin-2/NGAL</text>
<line x1="58.50" y1="341.22" x2="61.50" y2="341.22" stroke="#1a1a1a" stroke-width="0.85" />
<text x="58.00" y="342.20" font-size="2.8" text-anchor="end" font-weight="bold" fill="#111" stroke="none">Thrombopoietin</text>
<line x1="58.50" y1="343.44" x2="61.50" y2="343.44" stroke="#1a1a1a" stroke-width="0.85" />
<text x="58.00" y="344.42" font-size="2.8" text-anchor="end" font-weight="bold" fill="#111" stroke="none">Complement Factor D</text>
<line x1="58.50" y1="345.66" x2="61.50" y2="345.66" stroke="#1a1a1a" stroke-width="0.85" />
<text x="58.00" y="346.64" font-size="2.8" text-anchor="end" font-weight="bold" fill="#111" stroke="none">CXCL9/MIG</text>
<line x1="58.50" y1="347.89" x2="61.50" y2="347.89" stroke="#1a1a1a" stroke-width="0.85" />
<text x="58.00" y="348.87" font-size="2.8" text-anchor="end" font-weight="bold" fill="#111" stroke="none">IGFBP-5</text>
<line x1="58.50" y1="350.11" x2="61.50" y2="350.11" stroke="#1a1a1a" stroke-width="0.85" />
<text x="58.00" y="351.09" font-size="2.8" text-anchor="end" font-weight="bold" fill="#111" stroke="none">Flt-3 Ligand</text>
<line x1="58.50" y1="352.33" x2="61.50" y2="352.33" stroke="#1a1a1a" stroke-width="0.85" />
<text x="58.00" y="353.31" font-size="2.8" text-anchor="end" font-weight="bold" fill="#111" stroke="none">LDL R</text>
<line x1="58.50" y1="354.55" x2="61.50" y2="354.55" stroke="#1a1a1a" stroke-width="0.85" />
<text x="58.00" y="355.53" font-size="2.8" text-anchor="end" font-weight="bold" fill="#111" stroke="none">Coagulation Factor III/Tissue Factor</text>
<line x1="58.50" y1="356.78" x2="61.50" y2="356.78" stroke="#1a1a1a" stroke-width="0.85" />
<text x="58.00" y="357.76" font-size="2.8" text-anchor="end" font-weight="bold" fill="#111" stroke="none">Resistin</text>
<line x1="58.50" y1="359.00" x2="61.50" y2="359.00" stroke="#1a1a1a" stroke-width="0.85" />
<text x="58.00" y="359.98" font-size="2.8" text-anchor="end" font-weight="bold" fill="#111" stroke="none">RAGE</text>
<line x1="58.50" y1="361.22" x2="61.50" y2="361.22" stroke="#1a1a1a" stroke-width="0.85" />
<text x="58.00" y="362.20" font-size="2.8" text-anchor="end" font-weight="bold" fill="#111" stroke="none">Fetuin A/AHSG</text>
<line x1="58.50" y1="363.44" x2="61.50" y2="363.44" stroke="#1a1a1a" stroke-width="0.85" />
<text x="58.00" y="364.42" font-size="2.8" text-anchor="end" font-weight="bold" fill="#111" stroke="none">IL-28A/B</text>
<line x1="58.50" y1="365.67" x2="61.50" y2="365.67" stroke="#1a1a1a" stroke-width="0.85" />
<text x="58.00" y="366.65" font-size="2.8" text-anchor="end" font-weight="bold" fill="#111" stroke="none">CCL21/6Ckine</text>
<line x1="58.50" y1="367.89" x2="61.50" y2="367.89" stroke="#1a1a1a" stroke-width="0.85" />
<text x="58.00" y="368.87" font-size="2.8" text-anchor="end" font-weight="bold" fill="#111" stroke="none">C1q R1/CD93</text>
<line x1="58.50" y1="370.11" x2="61.50" y2="370.11" stroke="#1a1a1a" stroke-width="0.85" />
<text x="58.00" y="371.09" font-size="2.8" text-anchor="end" font-weight="bold" fill="#111" stroke="none">DPPIV/CD26</text>
<line x1="58.50" y1="372.33" x2="61.50" y2="372.33" stroke="#1a1a1a" stroke-width="0.85" />
<text x="58.00" y="373.31" font-size="2.8" text-anchor="end" font-weight="bold" fill="#111" stroke="none">Complement Component C5/C5a</text>
<line x1="58.50" y1="374.56" x2="61.50" y2="374.56" stroke="#1a1a1a" stroke-width="0.85" />
<text x="58.00" y="375.54" font-size="2.8" text-anchor="end" font-weight="bold" fill="#111" stroke="none">Serpin F1/PEDF</text>
<line x1="58.50" y1="376.78" x2="61.50" y2="376.78" stroke="#1a1a1a" stroke-width="0.85" />
<text x="58.00" y="377.76" font-size="2.8" text-anchor="end" font-weight="bold" fill="#111" stroke="none">WISP-1/CCN4</text>
<line x1="58.50" y1="379.00" x2="61.50" y2="379.00" stroke="#1a1a1a" stroke-width="0.85" />
<text x="58.00" y="379.98" font-size="2.8" text-anchor="end" font-weight="bold" fill="#111" stroke="none">Angiopoietin-1</text>
<line x1="58.50" y1="381.22" x2="61.50" y2="381.22" stroke="#1a1a1a" stroke-width="0.85" />
<text x="58.00" y="382.20" font-size="2.8" text-anchor="end" font-weight="bold" fill="#111" stroke="none">LIF</text>
<line x1="58.50" y1="383.45" x2="61.50" y2="383.45" stroke="#1a1a1a" stroke-width="0.85" />
<text x="58.00" y="384.43" font-size="2.8" text-anchor="end" font-weight="bold" fill="#111" stroke="none">IL-1 alpha/IL-1F1</text>
<line x1="58.50" y1="385.67" x2="61.50" y2="385.67" stroke="#1a1a1a" stroke-width="0.85" />
<text x="58.00" y="386.65" font-size="2.8" text-anchor="end" font-weight="bold" fill="#111" stroke="none">Angiopoietin-like 3</text>
<line x1="58.50" y1="387.89" x2="61.50" y2="387.89" stroke="#1a1a1a" stroke-width="0.85" />
<text x="58.00" y="388.87" font-size="2.8" text-anchor="end" font-weight="bold" fill="#111" stroke="none">IFN-gamma</text>
<line x1="58.50" y1="390.11" x2="61.50" y2="390.11" stroke="#1a1a1a" stroke-width="0.85" />
<text x="58.00" y="391.09" font-size="2.8" text-anchor="end" font-weight="bold" fill="#111" stroke="none">IL-10</text>
<line x1="58.50" y1="392.34" x2="61.50" y2="392.34" stroke="#1a1a1a" stroke-width="0.85" />
<text x="58.00" y="393.32" font-size="2.8" text-anchor="end" font-weight="bold" fill="#111" stroke="none">FGF acidic</text>
<line x1="58.50" y1="394.56" x2="61.50" y2="394.56" stroke="#1a1a1a" stroke-width="0.85" />
<text x="58.00" y="395.54" font-size="2.8" text-anchor="end" font-weight="bold" fill="#111" stroke="none">Periostin/OSF-2</text>
<line x1="58.50" y1="396.78" x2="61.50" y2="396.78" stroke="#1a1a1a" stroke-width="0.85" />
<text x="58.00" y="397.76" font-size="2.8" text-anchor="end" font-weight="bold" fill="#111" stroke="none">CD160</text>
<line x1="58.50" y1="399.00" x2="61.50" y2="399.00" stroke="#1a1a1a" stroke-width="0.85" />
<text x="58.00" y="399.98" font-size="2.8" text-anchor="end" font-weight="bold" fill="#111" stroke="none">Adiponectin/Acrp30</text>
<line x1="58.50" y1="401.23" x2="61.50" y2="401.23" stroke="#1a1a1a" stroke-width="0.85" />
<text x="58.00" y="402.21" font-size="2.8" text-anchor="end" font-weight="bold" fill="#111" stroke="none">CCL2/JE/MCP-1</text>
<line x1="58.50" y1="403.45" x2="61.50" y2="403.45" stroke="#1a1a1a" stroke-width="0.85" />
<text x="58.00" y="404.43" font-size="2.8" text-anchor="end" font-weight="bold" fill="#111" stroke="none">Endostatin</text>
<line x1="58.50" y1="405.67" x2="61.50" y2="405.67" stroke="#1a1a1a" stroke-width="0.85" />
<text x="58.00" y="406.65" font-size="2.8" text-anchor="end" font-weight="bold" fill="#111" stroke="none">CXCL1/KC</text>
<line x1="58.50" y1="407.90" x2="61.50" y2="407.90" stroke="#1a1a1a" stroke-width="0.85" />
<text x="58.00" y="408.88" font-size="2.8" text-anchor="end" font-weight="bold" fill="#111" stroke="none">IL-22</text>
<line x1="58.50" y1="410.12" x2="61.50" y2="410.12" stroke="#1a1a1a" stroke-width="0.85" />
<text x="58.00" y="411.10" font-size="2.8" text-anchor="end" font-weight="bold" fill="#111" stroke="none">CX3CL1/Fractalkine</text>
<line x1="58.50" y1="412.34" x2="61.50" y2="412.34" stroke="#1a1a1a" stroke-width="0.85" />
<text x="58.00" y="413.32" font-size="2.8" text-anchor="end" font-weight="bold" fill="#111" stroke="none">IL-23</text>
<line x1="58.50" y1="414.56" x2="61.50" y2="414.56" stroke="#1a1a1a" stroke-width="0.85" />
<text x="58.00" y="415.54" font-size="2.8" text-anchor="end" font-weight="bold" fill="#111" stroke="none">IL-3</text>
<line x1="58.50" y1="416.79" x2="61.50" y2="416.79" stroke="#1a1a1a" stroke-width="0.85" />
<text x="58.00" y="417.77" font-size="2.8" text-anchor="end" font-weight="bold" fill="#111" stroke="none">IL-6</text>
<line x1="58.50" y1="419.01" x2="61.50" y2="419.01" stroke="#1a1a1a" stroke-width="0.85" />
<text x="58.00" y="419.99" font-size="2.8" text-anchor="end" font-weight="bold" fill="#111" stroke="none">IL-13</text>
<line x1="58.50" y1="421.23" x2="61.50" y2="421.23" stroke="#1a1a1a" stroke-width="0.85" />
<text x="58.00" y="422.21" font-size="2.8" text-anchor="end" font-weight="bold" fill="#111" stroke="none">Myeloperoxidase</text>
<line x1="58.50" y1="423.45" x2="61.50" y2="423.45" stroke="#1a1a1a" stroke-width="0.85" />
<text x="58.00" y="424.43" font-size="2.8" text-anchor="end" font-weight="bold" fill="#111" stroke="none">PD-ECGF/Thymidine phosphorylase</text>
<line x1="58.50" y1="425.68" x2="61.50" y2="425.68" stroke="#1a1a1a" stroke-width="0.85" />
<text x="58.00" y="426.66" font-size="2.8" text-anchor="end" font-weight="bold" fill="#111" stroke="none">Leptin</text>
<line x1="58.50" y1="427.90" x2="61.50" y2="427.90" stroke="#1a1a1a" stroke-width="0.85" />
<text x="58.00" y="428.88" font-size="2.8" text-anchor="end" font-weight="bold" fill="#111" stroke="none">CD40/TNFRSF5</text>
<line x1="58.50" y1="430.12" x2="61.50" y2="430.12" stroke="#1a1a1a" stroke-width="0.85" />
<text x="58.00" y="431.10" font-size="2.8" text-anchor="end" font-weight="bold" fill="#111" stroke="none">CCL11/Eotaxin</text>
<line x1="58.50" y1="432.34" x2="61.50" y2="432.34" stroke="#1a1a1a" stroke-width="0.85" />
<text x="58.00" y="433.32" font-size="2.8" text-anchor="end" font-weight="bold" fill="#111" stroke="none">GDF-15</text>
<line x1="58.50" y1="434.57" x2="61.50" y2="434.57" stroke="#1a1a1a" stroke-width="0.85" />
<text x="58.00" y="435.55" font-size="2.8" text-anchor="end" font-weight="bold" fill="#111" stroke="none">CD14</text>
<line x1="58.50" y1="436.79" x2="61.50" y2="436.79" stroke="#1a1a1a" stroke-width="0.85" />
<text x="58.00" y="437.77" font-size="2.8" text-anchor="end" font-weight="bold" fill="#111" stroke="none">MMP-3</text>
<line x1="58.50" y1="439.01" x2="61.50" y2="439.01" stroke="#1a1a1a" stroke-width="0.85" />
<text x="58.00" y="439.99" font-size="2.8" text-anchor="end" font-weight="bold" fill="#111" stroke="none">IL-11</text>
<line x1="58.50" y1="441.23" x2="61.50" y2="441.23" stroke="#1a1a1a" stroke-width="0.85" />
<text x="58.00" y="442.21" font-size="2.8" text-anchor="end" font-weight="bold" fill="#111" stroke="none">CXCL10/IP-10</text>
<line x1="58.50" y1="443.46" x2="61.50" y2="443.46" stroke="#1a1a1a" stroke-width="0.85" />
<text x="58.00" y="444.44" font-size="2.8" text-anchor="end" font-weight="bold" fill="#111" stroke="none">Chemerin</text>
<line x1="58.50" y1="445.68" x2="61.50" y2="445.68" stroke="#1a1a1a" stroke-width="0.85" />
<text x="58.00" y="446.66" font-size="2.8" text-anchor="end" font-weight="bold" fill="#111" stroke="none">MMP-9</text>
<line x1="58.50" y1="447.90" x2="61.50" y2="447.90" stroke="#1a1a1a" stroke-width="0.85" />
<text x="58.00" y="448.88" font-size="2.8" text-anchor="end" font-weight="bold" fill="#111" stroke="none">VCAM-1/CD106</text>
<line x1="58.50" y1="450.12" x2="61.50" y2="450.12" stroke="#1a1a1a" stroke-width="0.85" />
<text x="58.00" y="451.10" font-size="2.8" text-anchor="end" font-weight="bold" fill="#111" stroke="none">IL-27 p28</text>
<line x1="58.50" y1="452.35" x2="61.50" y2="452.35" stroke="#1a1a1a" stroke-width="0.85" />
<text x="58.00" y="453.33" font-size="2.8" text-anchor="end" font-weight="bold" fill="#111" stroke="none">BAFF/BLyS/TNFSF13B</text>
<line x1="58.50" y1="454.57" x2="61.50" y2="454.57" stroke="#1a1a1a" stroke-width="0.85" />
<text x="58.00" y="455.55" font-size="2.8" text-anchor="end" font-weight="bold" fill="#111" stroke="none">TNF-alpha</text>
<line x1="58.50" y1="456.79" x2="61.50" y2="456.79" stroke="#1a1a1a" stroke-width="0.85" />
<text x="58.00" y="457.77" font-size="2.8" text-anchor="end" font-weight="bold" fill="#111" stroke="none">GM-CSF</text>
<line x1="58.50" y1="459.01" x2="61.50" y2="459.01" stroke="#1a1a1a" stroke-width="0.85" />
<text x="58.00" y="459.99" font-size="2.8" text-anchor="end" font-weight="bold" fill="#111" stroke="none">RBP4</text>
<line x1="58.50" y1="461.24" x2="61.50" y2="461.24" stroke="#1a1a1a" stroke-width="0.85" />
<text x="58.00" y="462.22" font-size="2.8" text-anchor="end" font-weight="bold" fill="#111" stroke="none">IL-1 beta/IL-1F2</text>
<line x1="58.50" y1="463.46" x2="61.50" y2="463.46" stroke="#1a1a1a" stroke-width="0.85" />
<text x="58.00" y="464.44" font-size="2.8" text-anchor="end" font-weight="bold" fill="#111" stroke="none">Proprotein Convertase 9/PCSK9</text>
<line x1="58.50" y1="465.68" x2="61.50" y2="465.68" stroke="#1a1a1a" stroke-width="0.85" />
<text x="58.00" y="466.66" font-size="2.8" text-anchor="end" font-weight="bold" fill="#111" stroke="none">CXCL13/BLC/BCA-1</text>
<line x1="58.50" y1="467.90" x2="61.50" y2="467.90" stroke="#1a1a1a" stroke-width="0.85" />
<text x="58.00" y="468.88" font-size="2.8" text-anchor="end" font-weight="bold" fill="#111" stroke="none">CCL12/MCP-5</text>
<line x1="58.50" y1="470.13" x2="61.50" y2="470.13" stroke="#1a1a1a" stroke-width="0.85" />
<text x="58.00" y="471.11" font-size="2.8" text-anchor="end" font-weight="bold" fill="#111" stroke="none">Angiopoietin-2</text>
<line x1="58.50" y1="472.35" x2="61.50" y2="472.35" stroke="#1a1a1a" stroke-width="0.85" />
<text x="58.00" y="473.33" font-size="2.8" text-anchor="end" font-weight="bold" fill="#111" stroke="none">LIX</text>
<line x1="58.50" y1="474.57" x2="61.50" y2="474.57" stroke="#1a1a1a" stroke-width="0.85" />
<text x="58.00" y="475.55" font-size="2.8" text-anchor="end" font-weight="bold" fill="#111" stroke="none">IL-17A</text>
<line x1="58.50" y1="476.79" x2="61.50" y2="476.79" stroke="#1a1a1a" stroke-width="0.85" />
<text x="58.00" y="477.77" font-size="2.8" text-anchor="end" font-weight="bold" fill="#111" stroke="none">FGF-21</text>
<line x1="58.50" y1="479.02" x2="61.50" y2="479.02" stroke="#1a1a1a" stroke-width="0.85" />
<text x="58.00" y="480.00" font-size="2.8" text-anchor="end" font-weight="bold" fill="#111" stroke="none">IL-33</text>
<line x1="58.50" y1="481.24" x2="61.50" y2="481.24" stroke="#1a1a1a" stroke-width="0.85" />
<text x="58.00" y="482.22" font-size="2.8" text-anchor="end" font-weight="bold" fill="#111" stroke="none">G-CSF</text>
<line x1="58.50" y1="483.46" x2="61.50" y2="483.46" stroke="#1a1a1a" stroke-width="0.85" />
<text x="58.00" y="484.44" font-size="2.8" text-anchor="end" font-weight="bold" fill="#111" stroke="none">Pref-1/DLK-1/FA1</text>
<line x1="58.50" y1="485.68" x2="61.50" y2="485.68" stroke="#1a1a1a" stroke-width="0.85" />
<text x="58.00" y="486.66" font-size="2.8" text-anchor="end" font-weight="bold" fill="#111" stroke="none">CXCL11/I-TAC</text>
<line x1="58.50" y1="487.91" x2="61.50" y2="487.91" stroke="#1a1a1a" stroke-width="0.85" />
<text x="58.00" y="488.89" font-size="2.8" text-anchor="end" font-weight="bold" fill="#111" stroke="none">IL-12 p40</text>
<line x1="58.50" y1="490.13" x2="61.50" y2="490.13" stroke="#1a1a1a" stroke-width="0.85" />
<text x="58.00" y="491.11" font-size="2.8" text-anchor="end" font-weight="bold" fill="#111" stroke="none">IL-5</text>
<line x1="58.50" y1="492.35" x2="61.50" y2="492.35" stroke="#1a1a1a" stroke-width="0.85" />
<text x="58.00" y="493.33" font-size="2.8" text-anchor="end" font-weight="bold" fill="#111" stroke="none">CXCL2/MIP-2</text>
<line x1="58.50" y1="494.57" x2="61.50" y2="494.57" stroke="#1a1a1a" stroke-width="0.85" />
<text x="58.00" y="495.55" font-size="2.8" text-anchor="end" font-weight="bold" fill="#111" stroke="none">MMP-2</text>
<line x1="58.50" y1="496.80" x2="61.50" y2="496.80" stroke="#1a1a1a" stroke-width="0.85" />
<text x="58.00" y="497.78" font-size="2.8" text-anchor="end" font-weight="bold" fill="#111" stroke="none">Cystatin C</text>
<line x1="58.50" y1="499.02" x2="61.50" y2="499.02" stroke="#1a1a1a" stroke-width="0.85" />
<text x="58.00" y="500.00" font-size="2.8" text-anchor="end" font-weight="bold" fill="#111" stroke="none">IGFBP-2</text>
<line x1="58.50" y1="501.24" x2="61.50" y2="501.24" stroke="#1a1a1a" stroke-width="0.85" />
<text x="58.00" y="502.22" font-size="2.8" text-anchor="end" font-weight="bold" fill="#111" stroke="none">CCL3/CCL4 MIP-1 alpha/beta</text>
<line x1="58.50" y1="503.46" x2="61.50" y2="503.46" stroke="#1a1a1a" stroke-width="0.85" />
<text x="58.00" y="504.44" font-size="2.8" text-anchor="end" font-weight="bold" fill="#111" stroke="none">CXCL16</text>
<line x1="58.50" y1="505.69" x2="61.50" y2="505.69" stroke="#1a1a1a" stroke-width="0.85" />
<text x="58.00" y="506.67" font-size="2.8" text-anchor="end" font-weight="bold" fill="#111" stroke="none">CCL22/MDC</text>
<line x1="58.50" y1="507.91" x2="61.50" y2="507.91" stroke="#1a1a1a" stroke-width="0.85" />
<text x="58.00" y="508.89" font-size="2.8" text-anchor="end" font-weight="bold" fill="#111" stroke="none">CCL5/RANTES</text>
<line x1="58.50" y1="510.13" x2="61.50" y2="510.13" stroke="#1a1a1a" stroke-width="0.85" />
<text x="58.00" y="511.11" font-size="2.8" text-anchor="end" font-weight="bold" fill="#111" stroke="none">CCL6/C10</text>
<line x1="58.50" y1="512.35" x2="61.50" y2="512.35" stroke="#1a1a1a" stroke-width="0.85" />
<text x="58.00" y="513.33" font-size="2.8" text-anchor="end" font-weight="bold" fill="#111" stroke="none">IGFBP-1</text>
<line x1="58.50" y1="514.58" x2="61.50" y2="514.58" stroke="#1a1a1a" stroke-width="0.85" />
<text x="58.00" y="515.56" font-size="2.8" text-anchor="end" font-weight="bold" fill="#111" stroke="none">IGFBP-3</text>
<line x1="58.50" y1="516.80" x2="61.50" y2="516.80" stroke="#1a1a1a" stroke-width="0.85" />
<text x="58.00" y="517.78" font-size="2.8" text-anchor="end" font-weight="bold" fill="#111" stroke="none">VEGF</text>
<line x1="58.50" y1="519.02" x2="61.50" y2="519.02" stroke="#1a1a1a" stroke-width="0.85" />
<text x="58.00" y="520.00" font-size="2.8" text-anchor="end" font-weight="bold" fill="#111" stroke="none">Osteopontin (OPN)</text>
<line x1="58.50" y1="521.24" x2="61.50" y2="521.24" stroke="#1a1a1a" stroke-width="0.85" />
<text x="58.00" y="522.22" font-size="2.8" text-anchor="end" font-weight="bold" fill="#111" stroke="none">IGFBP-6</text>
<line x1="58.50" y1="523.47" x2="61.50" y2="523.47" stroke="#1a1a1a" stroke-width="0.85" />
<text x="58.00" y="524.45" font-size="2.8" text-anchor="end" font-weight="bold" fill="#111" stroke="none">IL-7</text>
<line x1="58.50" y1="525.69" x2="61.50" y2="525.69" stroke="#1a1a1a" stroke-width="0.85" />
<text x="58.00" y="526.67" font-size="2.8" text-anchor="end" font-weight="bold" fill="#111" stroke="none">PDGF-BB</text>
<polyline points="173.50,280.90 177.50,280.90 177.50,285.70 173.50,285.70" fill="none" stroke="#5b9bd5" stroke-width="0.85"/>
<line x1="177.50" y1="283.30" x2="180.30" y2="283.30" stroke="#5b9bd5" stroke-width="0.8" />
<text x="184.70" y="284.90" font-size="9.05" text-anchor="start" font-weight="normal" fill="#000" >Up</text>
<polyline points="173.50,286.00 177.50,286.00 177.50,315.40 173.50,315.40" fill="none" stroke="#5b9bd5" stroke-width="0.85"/>
<line x1="177.50" y1="301.00" x2="180.30" y2="301.00" stroke="#5b9bd5" stroke-width="0.8" />
<text x="184.70" y="304.20" font-size="9.05" text-anchor="start" font-weight="normal" fill="#000" >Null</text>
<polyline points="173.50,315.80 177.50,315.80 177.50,524.40 173.50,524.40" fill="none" stroke="#5b9bd5" stroke-width="0.85"/>
<line x1="177.50" y1="420.60" x2="180.30" y2="420.60" stroke="#5b9bd5" stroke-width="0.8" />
<text x="184.70" y="423.90" font-size="9.05" text-anchor="start" font-weight="normal" fill="#000" >Down</text>
<rect x="154.50" y="531.20" width="108.90" height="6.70" fill="url(#gbar)"  />
<line x1="181.72" y1="531.20" x2="181.72" y2="537.90" stroke="#041" stroke-width="0.45" />
<line x1="208.95" y1="531.20" x2="208.95" y2="537.90" stroke="#041" stroke-width="0.45" />
<line x1="236.18" y1="531.20" x2="236.18" y2="537.90" stroke="#041" stroke-width="0.45" />
<text x="154.50" y="543.80" font-size="4.2" text-anchor="middle" font-weight="normal" fill="#000" >0</text>
<text x="181.72" y="543.80" font-size="4.2" text-anchor="middle" font-weight="normal" fill="#000" >0.5</text>
<text x="208.95" y="543.80" font-size="4.2" text-anchor="middle" font-weight="normal" fill="#000" >1.0</text>
<text x="236.18" y="543.80" font-size="4.2" text-anchor="middle" font-weight="normal" fill="#000" >1.5</text>
<text x="263.40" y="543.80" font-size="4.2" text-anchor="middle" font-weight="normal" fill="#000" >2.0</text>
<text x="220.40" y="277.90" font-size="10" text-anchor="start" font-weight="bold" fill="#000" stroke="#000" stroke-width="0.35">E</text>
<rect x="249.70" y="280.10" width="54.30" height="246.70" fill="#0aa90a"  />
<rect x="304.00" y="280.10" width="54.30" height="71.10" fill="url(#gE0)"  />
<rect x="304.00" y="371.30" width="54.30" height="104.20" fill="url(#gE1)"  />
<rect x="304.00" y="475.50" width="54.30" height="51.30" fill="url(#gE2)"  />
<rect x="249.70" y="351.20" width="54.30" height="17.60" fill="#000"  />
<rect x="304.00" y="351.20" width="54.30" height="20.10" fill="#000"  />
<rect x="249.70" y="280.10" width="108.60" height="246.70" fill="none" stroke="#111" stroke-width="0.4" />
<line x1="358.00" y1="280.10" x2="358.00" y2="527.00" stroke="#000" stroke-width="0.9" />
<text x="277.4" y="277.0" font-size="4.2" font-weight="bold" text-anchor="middle" fill="#000">RON TK<tspan font-size="2.5" dy="-1.8">+/+</tspan><tspan dy="1.8"> BMDM</tspan></text>
<line x1="277.00" y1="278.00" x2="277.00" y2="279.80" stroke="#111" stroke-width="0.5" />
<text x="332.7" y="277.0" font-size="4.2" font-weight="bold" text-anchor="middle" fill="#000">RON TK<tspan font-size="2.5" dy="-1.8">-/-</tspan><tspan dy="1.8"> BMDM</tspan></text>
<line x1="331.20" y1="278.00" x2="331.20" y2="279.80" stroke="#111" stroke-width="0.5" />
<text x="355.20" y="275.40" font-size="5.2" text-anchor="start" font-weight="bold" fill="#000"  stroke="#000" stroke-width="0.182">Regulation by RON:</text>
<line x1="246.60" y1="281.21" x2="249.60" y2="281.21" stroke="#1a1a1a" stroke-width="0.85" />
<text x="246.10" y="282.19" font-size="2.8" text-anchor="end" font-weight="bold" fill="#111" stroke="none">IGFBP-3</text>
<line x1="246.60" y1="283.43" x2="249.60" y2="283.43" stroke="#1a1a1a" stroke-width="0.85" />
<text x="246.10" y="284.41" font-size="2.8" text-anchor="end" font-weight="bold" fill="#111" stroke="none">IL-22</text>
<line x1="246.60" y1="285.66" x2="249.60" y2="285.66" stroke="#1a1a1a" stroke-width="0.85" />
<text x="246.10" y="286.64" font-size="2.8" text-anchor="end" font-weight="bold" fill="#111" stroke="none">Pentraxin 2/SAP</text>
<line x1="246.60" y1="287.88" x2="249.60" y2="287.88" stroke="#1a1a1a" stroke-width="0.85" />
<text x="246.10" y="288.86" font-size="2.8" text-anchor="end" font-weight="bold" fill="#111" stroke="none">Pentraxin 3/TSG-14</text>
<line x1="246.60" y1="290.10" x2="249.60" y2="290.10" stroke="#1a1a1a" stroke-width="0.85" />
<text x="246.10" y="291.08" font-size="2.8" text-anchor="end" font-weight="bold" fill="#111" stroke="none">MMP-3</text>
<line x1="246.60" y1="292.32" x2="249.60" y2="292.32" stroke="#1a1a1a" stroke-width="0.85" />
<text x="246.10" y="293.30" font-size="2.8" text-anchor="end" font-weight="bold" fill="#111" stroke="none">IGFBP-1</text>
<line x1="246.60" y1="294.55" x2="249.60" y2="294.55" stroke="#1a1a1a" stroke-width="0.85" />
<text x="246.10" y="295.53" font-size="2.8" text-anchor="end" font-weight="bold" fill="#111" stroke="none">IL-1ra/IL-1F3</text>
<line x1="246.60" y1="296.77" x2="249.60" y2="296.77" stroke="#1a1a1a" stroke-width="0.85" />
<text x="246.10" y="297.75" font-size="2.8" text-anchor="end" font-weight="bold" fill="#111" stroke="none">IL-13</text>
<line x1="246.60" y1="298.99" x2="249.60" y2="298.99" stroke="#1a1a1a" stroke-width="0.85" />
<text x="246.10" y="299.97" font-size="2.8" text-anchor="end" font-weight="bold" fill="#111" stroke="none">IL-11</text>
<line x1="246.60" y1="301.21" x2="249.60" y2="301.21" stroke="#1a1a1a" stroke-width="0.85" />
<text x="246.10" y="302.19" font-size="2.8" text-anchor="end" font-weight="bold" fill="#111" stroke="none">Myeloperoxidase</text>
<line x1="246.60" y1="303.44" x2="249.60" y2="303.44" stroke="#1a1a1a" stroke-width="0.85" />
<text x="246.10" y="304.42" font-size="2.8" text-anchor="end" font-weight="bold" fill="#111" stroke="none">FGF acidic</text>
<line x1="246.60" y1="305.66" x2="249.60" y2="305.66" stroke="#1a1a1a" stroke-width="0.85" />
<text x="246.10" y="306.64" font-size="2.8" text-anchor="end" font-weight="bold" fill="#111" stroke="none">IL-23</text>
<line x1="246.60" y1="307.88" x2="249.60" y2="307.88" stroke="#1a1a1a" stroke-width="0.85" />
<text x="246.10" y="308.86" font-size="2.8" text-anchor="end" font-weight="bold" fill="#111" stroke="none">Cystatin C</text>
<line x1="246.60" y1="310.10" x2="249.60" y2="310.10" stroke="#1a1a1a" stroke-width="0.85" />
<text x="246.10" y="311.08" font-size="2.8" text-anchor="end" font-weight="bold" fill="#111" stroke="none">CXCL11/I-TAC</text>
<line x1="246.60" y1="312.33" x2="249.60" y2="312.33" stroke="#1a1a1a" stroke-width="0.85" />
<text x="246.10" y="313.31" font-size="2.8" text-anchor="end" font-weight="bold" fill="#111" stroke="none">IL-2</text>
<line x1="246.60" y1="314.55" x2="249.60" y2="314.55" stroke="#1a1a1a" stroke-width="0.85" />
<text x="246.10" y="315.53" font-size="2.8" text-anchor="end" font-weight="bold" fill="#111" stroke="none">Angiopoietin-like 3</text>
<line x1="246.60" y1="316.77" x2="249.60" y2="316.77" stroke="#1a1a1a" stroke-width="0.85" />
<text x="246.10" y="317.75" font-size="2.8" text-anchor="end" font-weight="bold" fill="#111" stroke="none">C1q R1/CD93</text>
<line x1="246.60" y1="318.99" x2="249.60" y2="318.99" stroke="#1a1a1a" stroke-width="0.85" />
<text x="246.10" y="319.97" font-size="2.8" text-anchor="end" font-weight="bold" fill="#111" stroke="none">HGF</text>
<line x1="246.60" y1="321.22" x2="249.60" y2="321.22" stroke="#1a1a1a" stroke-width="0.85" />
<text x="246.10" y="322.20" font-size="2.8" text-anchor="end" font-weight="bold" fill="#111" stroke="none">Proliferin</text>
<line x1="246.60" y1="323.44" x2="249.60" y2="323.44" stroke="#1a1a1a" stroke-width="0.85" />
<text x="246.10" y="324.42" font-size="2.8" text-anchor="end" font-weight="bold" fill="#111" stroke="none">CXCL16</text>
<line x1="246.60" y1="325.66" x2="249.60" y2="325.66" stroke="#1a1a1a" stroke-width="0.85" />
<text x="246.10" y="326.64" font-size="2.8" text-anchor="end" font-weight="bold" fill="#111" stroke="none">IL-10</text>
<line x1="246.60" y1="327.88" x2="249.60" y2="327.88" stroke="#1a1a1a" stroke-width="0.85" />
<text x="246.10" y="328.86" font-size="2.8" text-anchor="end" font-weight="bold" fill="#111" stroke="none">CCL3/CCL4 MIP-1 alpha/beta</text>
<line x1="246.60" y1="330.11" x2="249.60" y2="330.11" stroke="#1a1a1a" stroke-width="0.85" />
<text x="246.10" y="331.09" font-size="2.8" text-anchor="end" font-weight="bold" fill="#111" stroke="none">Serpin F1/PEDF</text>
<line x1="246.60" y1="332.33" x2="249.60" y2="332.33" stroke="#1a1a1a" stroke-width="0.85" />
<text x="246.10" y="333.31" font-size="2.8" text-anchor="end" font-weight="bold" fill="#111" stroke="none">IL-6</text>
<line x1="246.60" y1="334.55" x2="249.60" y2="334.55" stroke="#1a1a1a" stroke-width="0.85" />
<text x="246.10" y="335.53" font-size="2.8" text-anchor="end" font-weight="bold" fill="#111" stroke="none">CCL22/MDC</text>
<line x1="246.60" y1="336.77" x2="249.60" y2="336.77" stroke="#1a1a1a" stroke-width="0.85" />
<text x="246.10" y="337.75" font-size="2.8" text-anchor="end" font-weight="bold" fill="#111" stroke="none">CCL6/C10</text>
<line x1="246.60" y1="339.00" x2="249.60" y2="339.00" stroke="#1a1a1a" stroke-width="0.85" />
<text x="246.10" y="339.98" font-size="2.8" text-anchor="end" font-weight="bold" fill="#111" stroke="none">Flt-3 Ligand</text>
<line x1="246.60" y1="341.22" x2="249.60" y2="341.22" stroke="#1a1a1a" stroke-width="0.85" />
<text x="246.10" y="342.20" font-size="2.8" text-anchor="end" font-weight="bold" fill="#111" stroke="none">Proprotein Convertase 9/PCSK9</text>
<line x1="246.60" y1="343.44" x2="249.60" y2="343.44" stroke="#1a1a1a" stroke-width="0.85" />
<text x="246.10" y="344.42" font-size="2.8" text-anchor="end" font-weight="bold" fill="#111" stroke="none">IGFBP-6</text>
<line x1="246.60" y1="345.66" x2="249.60" y2="345.66" stroke="#1a1a1a" stroke-width="0.85" />
<text x="246.10" y="346.64" font-size="2.8" text-anchor="end" font-weight="bold" fill="#111" stroke="none">Angiopoietin-2</text>
<line x1="246.60" y1="347.89" x2="249.60" y2="347.89" stroke="#1a1a1a" stroke-width="0.85" />
<text x="246.10" y="348.87" font-size="2.8" text-anchor="end" font-weight="bold" fill="#111" stroke="none">GM-CSF</text>
<line x1="246.60" y1="350.11" x2="249.60" y2="350.11" stroke="#1a1a1a" stroke-width="0.85" />
<text x="246.10" y="351.09" font-size="2.8" text-anchor="end" font-weight="bold" fill="#111" stroke="none">Adiponectin/Acrp30</text>
<line x1="246.60" y1="352.33" x2="249.60" y2="352.33" stroke="#1a1a1a" stroke-width="0.85" />
<text x="246.10" y="353.31" font-size="2.8" text-anchor="end" font-weight="bold" fill="#111" stroke="none">CX3CL1/Fractalkine</text>
<line x1="246.60" y1="354.55" x2="249.60" y2="354.55" stroke="#1a1a1a" stroke-width="0.85" />
<text x="246.10" y="355.53" font-size="2.8" text-anchor="end" font-weight="bold" fill="#111" stroke="none">CCL20/MIP-3 alpha</text>
<line x1="246.60" y1="356.78" x2="249.60" y2="356.78" stroke="#1a1a1a" stroke-width="0.85" />
<text x="246.10" y="357.76" font-size="2.8" text-anchor="end" font-weight="bold" fill="#111" stroke="none">C-Reactive Protein/CRP</text>
<line x1="246.60" y1="359.00" x2="249.60" y2="359.00" stroke="#1a1a1a" stroke-width="0.85" />
<text x="246.10" y="359.98" font-size="2.8" text-anchor="end" font-weight="bold" fill="#111" stroke="none">Fetuin A/AHSG</text>
<line x1="246.60" y1="361.22" x2="249.60" y2="361.22" stroke="#1a1a1a" stroke-width="0.85" />
<text x="246.10" y="362.20" font-size="2.8" text-anchor="end" font-weight="bold" fill="#111" stroke="none">IL-3</text>
<line x1="246.60" y1="363.44" x2="249.60" y2="363.44" stroke="#1a1a1a" stroke-width="0.85" />
<text x="246.10" y="364.42" font-size="2.8" text-anchor="end" font-weight="bold" fill="#111" stroke="none">FGF-21</text>
<line x1="246.60" y1="365.67" x2="249.60" y2="365.67" stroke="#1a1a1a" stroke-width="0.85" />
<text x="246.10" y="366.65" font-size="2.8" text-anchor="end" font-weight="bold" fill="#111" stroke="none">LIX</text>
<line x1="246.60" y1="367.89" x2="249.60" y2="367.89" stroke="#1a1a1a" stroke-width="0.85" />
<text x="246.10" y="368.87" font-size="2.8" text-anchor="end" font-weight="bold" fill="#111" stroke="none">E-Selectin/CD62E</text>
<line x1="246.60" y1="370.11" x2="249.60" y2="370.11" stroke="#1a1a1a" stroke-width="0.85" />
<text x="246.10" y="371.09" font-size="2.8" text-anchor="end" font-weight="bold" fill="#111" stroke="none">Endoglin/CD105</text>
<line x1="246.60" y1="372.33" x2="249.60" y2="372.33" stroke="#1a1a1a" stroke-width="0.85" />
<text x="246.10" y="373.31" font-size="2.8" text-anchor="end" font-weight="bold" fill="#111" stroke="none">Lipocalin-2/NGAL</text>
<line x1="246.60" y1="374.56" x2="249.60" y2="374.56" stroke="#1a1a1a" stroke-width="0.85" />
<text x="246.10" y="375.54" font-size="2.8" text-anchor="end" font-weight="bold" fill="#111" stroke="none">Gas 6</text>
<line x1="246.60" y1="376.78" x2="249.60" y2="376.78" stroke="#1a1a1a" stroke-width="0.85" />
<text x="246.10" y="377.76" font-size="2.8" text-anchor="end" font-weight="bold" fill="#111" stroke="none">IL-15</text>
<line x1="246.60" y1="379.00" x2="249.60" y2="379.00" stroke="#1a1a1a" stroke-width="0.85" />
<text x="246.10" y="379.98" font-size="2.8" text-anchor="end" font-weight="bold" fill="#111" stroke="none">M-CSF</text>
<line x1="246.60" y1="381.22" x2="249.60" y2="381.22" stroke="#1a1a1a" stroke-width="0.85" />
<text x="246.10" y="382.20" font-size="2.8" text-anchor="end" font-weight="bold" fill="#111" stroke="none">CXCL10/IP-10</text>
<line x1="246.60" y1="383.45" x2="249.60" y2="383.45" stroke="#1a1a1a" stroke-width="0.85" />
<text x="246.10" y="384.43" font-size="2.8" text-anchor="end" font-weight="bold" fill="#111" stroke="none">CCL5/RANTES</text>
<line x1="246.60" y1="385.67" x2="249.60" y2="385.67" stroke="#1a1a1a" stroke-width="0.85" />
<text x="246.10" y="386.65" font-size="2.8" text-anchor="end" font-weight="bold" fill="#111" stroke="none">CXCL9/MIG</text>
<line x1="246.60" y1="387.89" x2="249.60" y2="387.89" stroke="#1a1a1a" stroke-width="0.85" />
<text x="246.10" y="388.87" font-size="2.8" text-anchor="end" font-weight="bold" fill="#111" stroke="none">TIM-1/KIM-1/HAVCR</text>
<line x1="246.60" y1="390.11" x2="249.60" y2="390.11" stroke="#1a1a1a" stroke-width="0.85" />
<text x="246.10" y="391.09" font-size="2.8" text-anchor="end" font-weight="bold" fill="#111" stroke="none">ICAM-1/CD54</text>
<line x1="246.60" y1="392.34" x2="249.60" y2="392.34" stroke="#1a1a1a" stroke-width="0.85" />
<text x="246.10" y="393.32" font-size="2.8" text-anchor="end" font-weight="bold" fill="#111" stroke="none">LDL R</text>
<line x1="246.60" y1="394.56" x2="249.60" y2="394.56" stroke="#1a1a1a" stroke-width="0.85" />
<text x="246.10" y="395.54" font-size="2.8" text-anchor="end" font-weight="bold" fill="#111" stroke="none">IL-27 p28</text>
<line x1="246.60" y1="396.78" x2="249.60" y2="396.78" stroke="#1a1a1a" stroke-width="0.85" />
<text x="246.10" y="397.76" font-size="2.8" text-anchor="end" font-weight="bold" fill="#111" stroke="none">IL-17A</text>
<line x1="246.60" y1="399.00" x2="249.60" y2="399.00" stroke="#1a1a1a" stroke-width="0.85" />
<text x="246.10" y="399.98" font-size="2.8" text-anchor="end" font-weight="bold" fill="#111" stroke="none">IFN-gamma</text>
<line x1="246.60" y1="401.23" x2="249.60" y2="401.23" stroke="#1a1a1a" stroke-width="0.85" />
<text x="246.10" y="402.21" font-size="2.8" text-anchor="end" font-weight="bold" fill="#111" stroke="none">IL-7</text>
<line x1="246.60" y1="403.45" x2="249.60" y2="403.45" stroke="#1a1a1a" stroke-width="0.85" />
<text x="246.10" y="404.43" font-size="2.8" text-anchor="end" font-weight="bold" fill="#111" stroke="none">VCAM-1/CD106</text>
<line x1="246.60" y1="405.67" x2="249.60" y2="405.67" stroke="#1a1a1a" stroke-width="0.85" />
<text x="246.10" y="406.65" font-size="2.8" text-anchor="end" font-weight="bold" fill="#111" stroke="none">Osteoprotegerin/TNFRSF11B</text>
<line x1="246.60" y1="407.90" x2="249.60" y2="407.90" stroke="#1a1a1a" stroke-width="0.85" />
<text x="246.10" y="408.88" font-size="2.8" text-anchor="end" font-weight="bold" fill="#111" stroke="none">CCL21/6Ckine</text>
<line x1="246.60" y1="410.12" x2="249.60" y2="410.12" stroke="#1a1a1a" stroke-width="0.85" />
<text x="246.10" y="411.10" font-size="2.8" text-anchor="end" font-weight="bold" fill="#111" stroke="none">IL-1 alpha/IL-1F1</text>
<line x1="246.60" y1="412.34" x2="249.60" y2="412.34" stroke="#1a1a1a" stroke-width="0.85" />
<text x="246.10" y="413.32" font-size="2.8" text-anchor="end" font-weight="bold" fill="#111" stroke="none">MMP-2</text>
<line x1="246.60" y1="414.56" x2="249.60" y2="414.56" stroke="#1a1a1a" stroke-width="0.85" />
<text x="246.10" y="415.54" font-size="2.8" text-anchor="end" font-weight="bold" fill="#111" stroke="none">RAGE</text>
<line x1="246.60" y1="416.79" x2="249.60" y2="416.79" stroke="#1a1a1a" stroke-width="0.85" />
<text x="246.10" y="417.77" font-size="2.8" text-anchor="end" font-weight="bold" fill="#111" stroke="none">Leptin</text>
<line x1="246.60" y1="419.01" x2="249.60" y2="419.01" stroke="#1a1a1a" stroke-width="0.85" />
<text x="246.10" y="419.99" font-size="2.8" text-anchor="end" font-weight="bold" fill="#111" stroke="none">DKK-1</text>
<line x1="246.60" y1="421.23" x2="249.60" y2="421.23" stroke="#1a1a1a" stroke-width="0.85" />
<text x="246.10" y="422.21" font-size="2.8" text-anchor="end" font-weight="bold" fill="#111" stroke="none">Reg3G</text>
<line x1="246.60" y1="423.45" x2="249.60" y2="423.45" stroke="#1a1a1a" stroke-width="0.85" />
<text x="246.10" y="424.43" font-size="2.8" text-anchor="end" font-weight="bold" fill="#111" stroke="none">Osteopontin (OPN)</text>
<line x1="246.60" y1="425.68" x2="249.60" y2="425.68" stroke="#1a1a1a" stroke-width="0.85" />
<text x="246.10" y="426.66" font-size="2.8" text-anchor="end" font-weight="bold" fill="#111" stroke="none">IL-4</text>
<line x1="246.60" y1="427.90" x2="249.60" y2="427.90" stroke="#1a1a1a" stroke-width="0.85" />
<text x="246.10" y="428.88" font-size="2.8" text-anchor="end" font-weight="bold" fill="#111" stroke="none">Pref-1/DLK-1/FA1</text>
<line x1="246.60" y1="430.12" x2="249.60" y2="430.12" stroke="#1a1a1a" stroke-width="0.85" />
<text x="246.10" y="431.10" font-size="2.8" text-anchor="end" font-weight="bold" fill="#111" stroke="none">TNF-alpha</text>
<line x1="246.60" y1="432.34" x2="249.60" y2="432.34" stroke="#1a1a1a" stroke-width="0.85" />
<text x="246.10" y="433.32" font-size="2.8" text-anchor="end" font-weight="bold" fill="#111" stroke="none">Resistin</text>
<line x1="246.60" y1="434.57" x2="249.60" y2="434.57" stroke="#1a1a1a" stroke-width="0.85" />
<text x="246.10" y="435.55" font-size="2.8" text-anchor="end" font-weight="bold" fill="#111" stroke="none">IL-5</text>
<line x1="246.60" y1="436.79" x2="249.60" y2="436.79" stroke="#1a1a1a" stroke-width="0.85" />
<text x="246.10" y="437.77" font-size="2.8" text-anchor="end" font-weight="bold" fill="#111" stroke="none">CXCL2/MIP-2</text>
<line x1="246.60" y1="439.01" x2="249.60" y2="439.01" stroke="#1a1a1a" stroke-width="0.85" />
<text x="246.10" y="439.99" font-size="2.8" text-anchor="end" font-weight="bold" fill="#111" stroke="none">IL-28A/B</text>
<line x1="246.60" y1="441.23" x2="249.60" y2="441.23" stroke="#1a1a1a" stroke-width="0.85" />
<text x="246.10" y="442.21" font-size="2.8" text-anchor="end" font-weight="bold" fill="#111" stroke="none">Amphiregulin</text>
<line x1="246.60" y1="443.46" x2="249.60" y2="443.46" stroke="#1a1a1a" stroke-width="0.85" />
<text x="246.10" y="444.44" font-size="2.8" text-anchor="end" font-weight="bold" fill="#111" stroke="none">DPPIV/CD26</text>
<line x1="246.60" y1="445.68" x2="249.60" y2="445.68" stroke="#1a1a1a" stroke-width="0.85" />
<text x="246.10" y="446.66" font-size="2.8" text-anchor="end" font-weight="bold" fill="#111" stroke="none">P-Selectin/CD62P</text>
<line x1="246.60" y1="447.90" x2="249.60" y2="447.90" stroke="#1a1a1a" stroke-width="0.85" />
<text x="246.10" y="448.88" font-size="2.8" text-anchor="end" font-weight="bold" fill="#111" stroke="none">WISP-1/CCN4</text>
<line x1="246.60" y1="450.12" x2="249.60" y2="450.12" stroke="#1a1a1a" stroke-width="0.85" />
<text x="246.10" y="451.10" font-size="2.8" text-anchor="end" font-weight="bold" fill="#111" stroke="none">CXCL1/KC</text>
<line x1="246.60" y1="452.35" x2="249.60" y2="452.35" stroke="#1a1a1a" stroke-width="0.85" />
<text x="246.10" y="453.33" font-size="2.8" text-anchor="end" font-weight="bold" fill="#111" stroke="none">RBP4</text>
<line x1="246.60" y1="454.57" x2="249.60" y2="454.57" stroke="#1a1a1a" stroke-width="0.85" />
<text x="246.10" y="455.55" font-size="2.8" text-anchor="end" font-weight="bold" fill="#111" stroke="none">LIF</text>
<line x1="246.60" y1="456.79" x2="249.60" y2="456.79" stroke="#1a1a1a" stroke-width="0.85" />
<text x="246.10" y="457.77" font-size="2.8" text-anchor="end" font-weight="bold" fill="#111" stroke="none">Endostatin</text>
<line x1="246.60" y1="459.01" x2="249.60" y2="459.01" stroke="#1a1a1a" stroke-width="0.85" />
<text x="246.10" y="459.99" font-size="2.8" text-anchor="end" font-weight="bold" fill="#111" stroke="none">IL-12 p40</text>
<line x1="246.60" y1="461.24" x2="249.60" y2="461.24" stroke="#1a1a1a" stroke-width="0.85" />
<text x="246.10" y="462.22" font-size="2.8" text-anchor="end" font-weight="bold" fill="#111" stroke="none">EGF</text>
<line x1="246.60" y1="463.46" x2="249.60" y2="463.46" stroke="#1a1a1a" stroke-width="0.85" />
<text x="246.10" y="464.44" font-size="2.8" text-anchor="end" font-weight="bold" fill="#111" stroke="none">CD160</text>
<line x1="246.60" y1="465.68" x2="249.60" y2="465.68" stroke="#1a1a1a" stroke-width="0.85" />
<text x="246.10" y="466.66" font-size="2.8" text-anchor="end" font-weight="bold" fill="#111" stroke="none">PD-ECGF/Thymidine phosphorylase</text>
<line x1="246.60" y1="467.90" x2="249.60" y2="467.90" stroke="#1a1a1a" stroke-width="0.85" />
<text x="246.10" y="468.88" font-size="2.8" text-anchor="end" font-weight="bold" fill="#111" stroke="none">VEGF</text>
<line x1="246.60" y1="470.13" x2="249.60" y2="470.13" stroke="#1a1a1a" stroke-width="0.85" />
<text x="246.10" y="471.11" font-size="2.8" text-anchor="end" font-weight="bold" fill="#111" stroke="none">GDF-15</text>
<line x1="246.60" y1="472.35" x2="249.60" y2="472.35" stroke="#1a1a1a" stroke-width="0.85" />
<text x="246.10" y="473.33" font-size="2.8" text-anchor="end" font-weight="bold" fill="#111" stroke="none">MMP-9</text>
<line x1="246.60" y1="474.57" x2="249.60" y2="474.57" stroke="#1a1a1a" stroke-width="0.85" />
<text x="246.10" y="475.55" font-size="2.8" text-anchor="end" font-weight="bold" fill="#111" stroke="none">CXCL13/BLC/BCA-1</text>
<line x1="246.60" y1="476.79" x2="249.60" y2="476.79" stroke="#1a1a1a" stroke-width="0.85" />
<text x="246.10" y="477.77" font-size="2.8" text-anchor="end" font-weight="bold" fill="#111" stroke="none">IGFBP-2</text>
<line x1="246.60" y1="479.02" x2="249.60" y2="479.02" stroke="#1a1a1a" stroke-width="0.85" />
<text x="246.10" y="480.00" font-size="2.8" text-anchor="end" font-weight="bold" fill="#111" stroke="none">Serpin E1/PAI-1</text>
<line x1="246.60" y1="481.24" x2="249.60" y2="481.24" stroke="#1a1a1a" stroke-width="0.85" />
<text x="246.10" y="482.22" font-size="2.8" text-anchor="end" font-weight="bold" fill="#111" stroke="none">CCL2/JE/MCP-1</text>
<line x1="246.60" y1="483.46" x2="249.60" y2="483.46" stroke="#1a1a1a" stroke-width="0.85" />
<text x="246.10" y="484.44" font-size="2.8" text-anchor="end" font-weight="bold" fill="#111" stroke="none">CD40/TNFRSF5</text>
<line x1="246.60" y1="485.68" x2="249.60" y2="485.68" stroke="#1a1a1a" stroke-width="0.85" />
<text x="246.10" y="486.66" font-size="2.8" text-anchor="end" font-weight="bold" fill="#111" stroke="none">IL-1 beta/IL-1F2</text>
<line x1="246.60" y1="487.91" x2="249.60" y2="487.91" stroke="#1a1a1a" stroke-width="0.85" />
<text x="246.10" y="488.89" font-size="2.8" text-anchor="end" font-weight="bold" fill="#111" stroke="none">BAFF/BLyS/TNFSF13B</text>
<line x1="246.60" y1="490.13" x2="249.60" y2="490.13" stroke="#1a1a1a" stroke-width="0.85" />
<text x="246.10" y="491.11" font-size="2.8" text-anchor="end" font-weight="bold" fill="#111" stroke="none">Angiopoietin-1</text>
<line x1="246.60" y1="492.35" x2="249.60" y2="492.35" stroke="#1a1a1a" stroke-width="0.85" />
<text x="246.10" y="493.33" font-size="2.8" text-anchor="end" font-weight="bold" fill="#111" stroke="none">Chitinase 3-like 1</text>
<line x1="246.60" y1="494.57" x2="249.60" y2="494.57" stroke="#1a1a1a" stroke-width="0.85" />
<text x="246.10" y="495.55" font-size="2.8" text-anchor="end" font-weight="bold" fill="#111" stroke="none">G-CSF</text>
<line x1="246.60" y1="496.80" x2="249.60" y2="496.80" stroke="#1a1a1a" stroke-width="0.85" />
<text x="246.10" y="497.78" font-size="2.8" text-anchor="end" font-weight="bold" fill="#111" stroke="none">Complement Component C5/C5a</text>
<line x1="246.60" y1="499.02" x2="249.60" y2="499.02" stroke="#1a1a1a" stroke-width="0.85" />
<text x="246.10" y="500.00" font-size="2.8" text-anchor="end" font-weight="bold" fill="#111" stroke="none">CCL17/TARC</text>
<line x1="246.60" y1="501.24" x2="249.60" y2="501.24" stroke="#1a1a1a" stroke-width="0.85" />
<text x="246.10" y="502.22" font-size="2.8" text-anchor="end" font-weight="bold" fill="#111" stroke="none">CD14</text>
<line x1="246.60" y1="503.46" x2="249.60" y2="503.46" stroke="#1a1a1a" stroke-width="0.85" />
<text x="246.10" y="504.44" font-size="2.8" text-anchor="end" font-weight="bold" fill="#111" stroke="none">Chemerin</text>
<line x1="246.60" y1="505.69" x2="249.60" y2="505.69" stroke="#1a1a1a" stroke-width="0.85" />
<text x="246.10" y="506.67" font-size="2.8" text-anchor="end" font-weight="bold" fill="#111" stroke="none">IGFBP-5</text>
<line x1="246.60" y1="507.91" x2="249.60" y2="507.91" stroke="#1a1a1a" stroke-width="0.85" />
<text x="246.10" y="508.89" font-size="2.8" text-anchor="end" font-weight="bold" fill="#111" stroke="none">Periostin/OSF-2</text>
<line x1="246.60" y1="510.13" x2="249.60" y2="510.13" stroke="#1a1a1a" stroke-width="0.85" />
<text x="246.10" y="511.11" font-size="2.8" text-anchor="end" font-weight="bold" fill="#111" stroke="none">IL-33</text>
<line x1="246.60" y1="512.35" x2="249.60" y2="512.35" stroke="#1a1a1a" stroke-width="0.85" />
<text x="246.10" y="513.33" font-size="2.8" text-anchor="end" font-weight="bold" fill="#111" stroke="none">Thrombopoietin</text>
<line x1="246.60" y1="514.58" x2="249.60" y2="514.58" stroke="#1a1a1a" stroke-width="0.85" />
<text x="246.10" y="515.56" font-size="2.8" text-anchor="end" font-weight="bold" fill="#111" stroke="none">Coagulation Factor III/Tissue Factor</text>
<line x1="246.60" y1="516.80" x2="249.60" y2="516.80" stroke="#1a1a1a" stroke-width="0.85" />
<text x="246.10" y="517.78" font-size="2.8" text-anchor="end" font-weight="bold" fill="#111" stroke="none">CCL12/MCP-5</text>
<line x1="246.60" y1="519.02" x2="249.60" y2="519.02" stroke="#1a1a1a" stroke-width="0.85" />
<text x="246.10" y="520.00" font-size="2.8" text-anchor="end" font-weight="bold" fill="#111" stroke="none">PDGF-BB</text>
<line x1="246.60" y1="521.24" x2="249.60" y2="521.24" stroke="#1a1a1a" stroke-width="0.85" />
<text x="246.10" y="522.22" font-size="2.8" text-anchor="end" font-weight="bold" fill="#111" stroke="none">CCL19/MIP-3 beta</text>
<line x1="246.60" y1="523.47" x2="249.60" y2="523.47" stroke="#1a1a1a" stroke-width="0.85" />
<text x="246.10" y="524.45" font-size="2.8" text-anchor="end" font-weight="bold" fill="#111" stroke="none">CCL11/Eotaxin</text>
<line x1="246.60" y1="525.69" x2="249.60" y2="525.69" stroke="#1a1a1a" stroke-width="0.85" />
<text x="246.10" y="526.67" font-size="2.8" text-anchor="end" font-weight="bold" fill="#111" stroke="none">Complement Factor D</text>
<polyline points="361.50,280.90 365.50,280.90 365.50,368.60 361.50,368.60" fill="none" stroke="#5b9bd5" stroke-width="0.85"/>
<line x1="365.50" y1="323.80" x2="368.30" y2="323.80" stroke="#5b9bd5" stroke-width="0.8" />
<text x="372.70" y="328.10" font-size="9.05" text-anchor="start" font-weight="normal" fill="#000" >Null</text>
<polyline points="361.50,369.00 365.50,369.00 365.50,475.70 361.50,475.70" fill="none" stroke="#5b9bd5" stroke-width="0.85"/>
<line x1="365.50" y1="422.40" x2="368.30" y2="422.40" stroke="#5b9bd5" stroke-width="0.8" />
<text x="372.70" y="425.70" font-size="9.05" text-anchor="start" font-weight="normal" fill="#000" >Up</text>
<polyline points="361.50,476.10 365.50,476.10 365.50,525.60 361.50,525.60" fill="none" stroke="#5b9bd5" stroke-width="0.85"/>
<line x1="365.50" y1="500.90" x2="368.30" y2="500.90" stroke="#5b9bd5" stroke-width="0.8" />
<text x="372.70" y="504.50" font-size="9.05" text-anchor="start" font-weight="normal" fill="#000" >Down</text>
</svg>
</body>
</html>
